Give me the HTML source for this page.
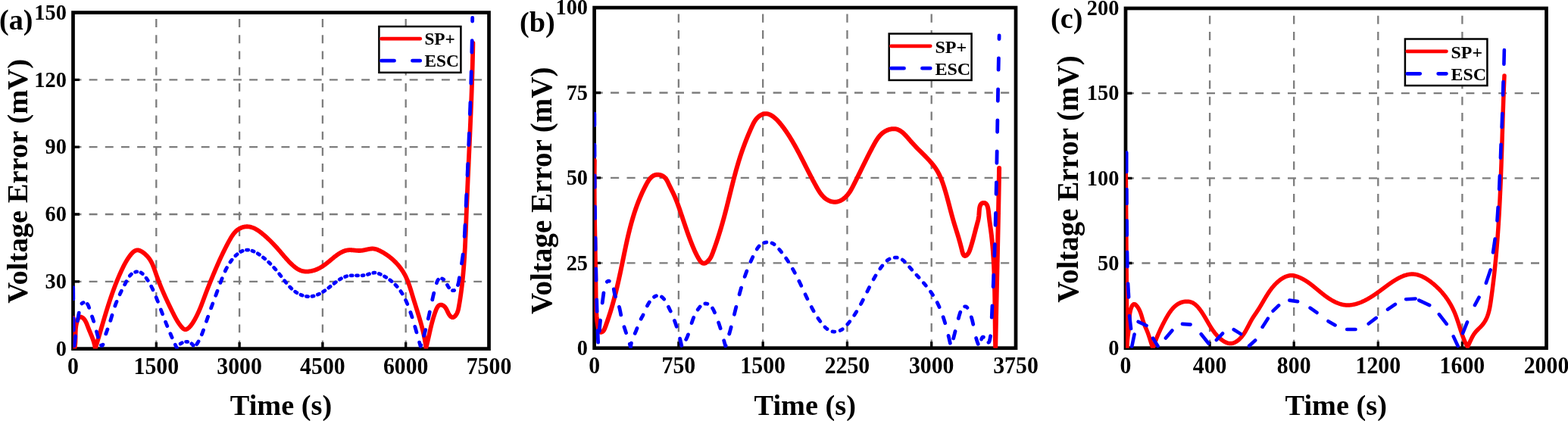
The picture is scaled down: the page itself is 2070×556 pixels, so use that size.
<!DOCTYPE html>
<html><head><meta charset="utf-8"><title>Voltage Error</title>
<style>html,body{margin:0;padding:0;background:#fff;overflow:hidden}svg{display:block}</style></head>
<body><svg width="2070" height="556" viewBox="0 0 2070 556" font-family="'Liberation Serif', 'Times New Roman', serif" font-weight="bold" fill="#000">
<rect width="2070" height="556" fill="#fff"/>
<path d="M206.3 460.6V16.6M316.1 460.6V16.6M425.9 460.6V16.6M535.7 460.6V16.6" stroke="#7d7d7d" stroke-width="2.3" stroke-dasharray="10.9 10.335" fill="none"/>
<path d="M96.5 371.8H645.5M96.5 283H645.5M96.5 194.2H645.5M96.5 105.4H645.5" stroke="#7d7d7d" stroke-width="2.3" stroke-dasharray="10.9 10.25" fill="none"/>
<path d="M206.3 460.6V452.1M316.1 460.6V452.1M425.9 460.6V452.1M535.7 460.6V452.1M96.5 371.8H105M96.5 283H105M96.5 194.2H105M96.5 105.4H105" stroke="#000" stroke-width="3.3" fill="none"/>
<rect x="96.5" y="16.6" width="549" height="444" fill="none" stroke="#000" stroke-width="4.7"/>
<clipPath id="clipa"><rect x="96.5" y="16.6" width="549" height="444"/></clipPath>
<g clip-path="url(#clipa)">
<path d="M96.6 420 L96.67 421.67 L96.73 423.33 L96.8 425 L96.86 426.67 L96.92 428.33 L96.99 430 L97.05 431.67 L97.12 433.33 L97.19 435 L97.26 436.67 L97.33 438.33 L97.4 440 L97.48 441.67 L97.56 443.33 L97.64 445 L97.72 446.67 L97.8 448.33 L97.89 450 L97.97 451.67 L98.06 453.33 L98.15 455 L98.23 456.67 L98.32 458.33 L98.4 460 L98.54 459.32 L98.66 458.64 L98.78 457.96 L98.88 457.27 L98.98 456.58 L99.06 455.89 L99.14 455.19 L99.2 454.5 L99.26 453.8 L99.32 453.1 L99.36 452.4 L99.4 451.69 L99.44 450.99 L99.47 450.28 L99.49 449.57 L99.51 448.86 L99.53 448.15 L99.55 447.44 L99.56 446.73 L99.57 446.01 L99.58 445.3 L99.59 444.58 L99.59 443.87 L99.6 443.15 L99.61 442.43 L99.62 441.71 L99.64 441 L99.65 440.28 L99.67 439.56 L99.69 438.85 L99.72 438.13 L99.75 437.41 L99.78 436.7 L99.83 435.98 L99.87 435.26 L99.93 434.55 L99.99 433.84 L100.06 433.12 L100.14 432.41 L100.23 431.7 L100.32 430.99 L100.43 430.29 L100.55 429.58 L100.68 428.88 L100.82 428.17 L100.97 427.47 L101.13 426.77 L101.31 426.08 L101.5 425.38 L101.71 424.69 L101.93 424 L102.17 423.31 L102.42 422.63 L102.69 421.95 L102.98 421.29 L103.3 420.67 L103.64 420.1 L104.02 419.59 L104.43 419.16 L104.88 418.83 L105.37 418.61 L105.91 418.51 L106.49 418.54 L107.1 418.68 L107.7 418.9 L108.29 419.17 L108.84 419.5 L109.37 419.86 L109.87 420.27 L110.35 420.72 L110.8 421.21 L111.24 421.72 L111.65 422.27 L112.05 422.85 L112.43 423.46 L112.79 424.08 L113.13 424.73 L113.47 425.4 L113.79 426.08 L114.1 426.77 L114.4 427.48 L114.69 428.19 L114.98 428.91 L115.26 429.63 L115.53 430.35 L115.81 431.07 L116.08 431.78 L116.35 432.49 L116.62 433.19 L116.9 433.87 L117.17 434.55 L117.44 435.22 L117.72 435.89 L117.99 436.55 L118.26 437.2 L118.53 437.85 L118.8 438.49 L119.07 439.13 L119.33 439.77 L119.6 440.4 L119.86 441.03 L120.12 441.65 L120.38 442.28 L120.64 442.9 L120.89 443.52 L121.14 444.14 L121.39 444.76 L121.64 445.39 L121.88 446.01 L122.11 446.64 L122.35 447.26 L122.58 447.9 L122.8 448.53 L123.02 449.17 L123.24 449.81 L123.45 450.46 L123.66 451.11 L123.86 451.77 L124.06 452.43 L124.25 453.1 L124.43 453.78 L124.61 454.47 L124.78 455.16 L124.95 455.86 L125.11 456.58 L125.26 457.3 L125.41 458.03 L125.55 458.78 L125.68 459.53 L125.8 460.3 L126 459.63 L126.21 458.96 L126.41 458.3 L126.62 457.63 L126.82 456.96 L127.02 456.29 L127.22 455.62 L127.43 454.95 L127.63 454.28 L127.83 453.61 L128.03 452.94 L128.23 452.27 L128.43 451.6 L128.63 450.93 L128.83 450.26 L129.03 449.59 L129.23 448.92 L129.43 448.25 L129.62 447.58 L129.82 446.91 L130.02 446.23 L130.22 445.56 L130.42 444.89 L130.62 444.22 L130.81 443.54 L131.01 442.87 L131.21 442.2 L131.41 441.53 L131.6 440.85 L131.8 440.18 L132 439.51 L132.19 438.83 L132.39 438.16 L132.59 437.49 L132.78 436.81 L132.98 436.14 L133.18 435.47 L133.38 434.79 L133.57 434.12 L133.77 433.44 L133.97 432.77 L134.16 432.1 L134.36 431.42 L134.56 430.75 L134.76 430.07 L134.96 429.4 L135.15 428.73 L135.35 428.05 L135.55 427.38 L135.75 426.7 L135.95 426.03 L136.15 425.36 L136.34 424.68 L136.54 424.01 L136.74 423.34 L136.94 422.66 L137.14 421.99 L137.34 421.31 L137.55 420.64 L137.75 419.97 L137.95 419.29 L138.15 418.62 L138.35 417.95 L138.56 417.28 L138.76 416.6 L138.96 415.93 L139.17 415.26 L139.37 414.59 L139.57 413.91 L139.78 413.24 L139.99 412.57 L140.19 411.9 L140.4 411.23 L140.61 410.56 L140.81 409.88 L141.02 409.21 L141.23 408.54 L141.44 407.87 L141.65 407.2 L141.86 406.53 L142.07 405.86 L142.28 405.19 L142.49 404.52 L142.71 403.85 L142.92 403.19 L143.14 402.52 L143.35 401.85 L143.57 401.18 L143.78 400.51 L144 399.85 L144.22 399.18 L144.44 398.51 L144.66 397.85 L144.88 397.18 L145.1 396.51 L145.32 395.85 L145.54 395.18 L145.77 394.52 L145.99 393.85 L146.21 393.19 L146.44 392.53 L146.67 391.86 L146.9 391.2 L147.12 390.54 L147.35 389.88 L147.58 389.21 L147.82 388.55 L148.05 387.89 L148.28 387.23 L148.52 386.57 L148.75 385.91 L148.99 385.25 L149.23 384.59 L149.46 383.94 L149.7 383.28 L149.94 382.62 L150.19 381.96 L150.43 381.31 L150.67 380.65 L150.92 380 L151.16 379.34 L151.41 378.69 L151.66 378.03 L151.91 377.38 L152.16 376.73 L152.41 376.07 L152.67 375.42 L152.92 374.77 L153.18 374.12 L153.43 373.47 L153.69 372.82 L153.95 372.17 L154.21 371.52 L154.48 370.88 L154.74 370.23 L155 369.58 L155.27 368.94 L155.54 368.29 L155.81 367.65 L156.08 367 L156.35 366.36 L156.62 365.72 L156.9 365.08 L157.17 364.43 L157.45 363.79 L157.73 363.15 L158.01 362.51 L158.29 361.88 L158.58 361.24 L158.86 360.6 L159.15 359.96 L159.44 359.33 L159.73 358.69 L160.02 358.06 L160.31 357.42 L160.6 356.79 L160.9 356.16 L161.2 355.53 L161.5 354.9 L161.8 354.27 L162.1 353.64 L162.41 353.01 L162.72 352.38 L163.03 351.76 L163.35 351.13 L163.67 350.51 L163.99 349.89 L164.31 349.27 L164.64 348.65 L164.98 348.03 L165.32 347.41 L165.66 346.8 L166.01 346.18 L166.36 345.57 L166.72 344.96 L167.08 344.35 L167.45 343.75 L167.82 343.14 L168.2 342.54 L168.59 341.94 L168.98 341.34 L169.38 340.74 L169.79 340.15 L170.2 339.56 L170.62 338.97 L171.05 338.38 L171.48 337.79 L171.92 337.21 L172.37 336.63 L172.83 336.06 L173.3 335.49 L173.77 334.94 L174.26 334.41 L174.75 333.89 L175.25 333.4 L175.76 332.93 L176.28 332.5 L176.81 332.09 L177.35 331.72 L177.9 331.39 L178.46 331.09 L179.02 330.85 L179.6 330.65 L180.19 330.5 L180.79 330.4 L181.4 330.36 L182.02 330.38 L182.65 330.46 L183.29 330.59 L183.94 330.77 L184.59 331 L185.24 331.28 L185.89 331.59 L186.54 331.94 L187.19 332.32 L187.83 332.72 L188.47 333.15 L189.1 333.61 L189.72 334.08 L190.33 334.56 L190.92 335.06 L191.5 335.56 L192.06 336.06 L192.61 336.56 L193.13 337.07 L193.64 337.57 L194.14 338.08 L194.62 338.6 L195.08 339.11 L195.53 339.64 L195.97 340.17 L196.39 340.71 L196.81 341.25 L197.21 341.81 L197.59 342.37 L197.97 342.94 L198.34 343.52 L198.7 344.1 L199.04 344.69 L199.38 345.29 L199.71 345.9 L200.03 346.51 L200.34 347.12 L200.64 347.74 L200.94 348.37 L201.23 349 L201.51 349.63 L201.79 350.27 L202.06 350.92 L202.32 351.57 L202.58 352.22 L202.84 352.87 L203.09 353.53 L203.33 354.19 L203.58 354.85 L203.82 355.51 L204.06 356.18 L204.29 356.85 L204.52 357.52 L204.76 358.19 L204.99 358.86 L205.22 359.53 L205.45 360.2 L205.68 360.87 L205.91 361.54 L206.14 362.21 L206.38 362.88 L206.61 363.54 L206.85 364.21 L207.08 364.88 L207.32 365.54 L207.56 366.2 L207.81 366.87 L208.05 367.53 L208.29 368.19 L208.54 368.85 L208.79 369.51 L209.04 370.16 L209.28 370.82 L209.54 371.48 L209.79 372.13 L210.04 372.79 L210.3 373.44 L210.55 374.09 L210.81 374.74 L211.07 375.4 L211.33 376.05 L211.59 376.69 L211.86 377.34 L212.12 377.99 L212.38 378.64 L212.65 379.28 L212.92 379.93 L213.19 380.58 L213.46 381.22 L213.73 381.86 L214 382.51 L214.27 383.15 L214.55 383.79 L214.82 384.43 L215.1 385.07 L215.38 385.71 L215.65 386.35 L215.93 386.99 L216.21 387.63 L216.5 388.27 L216.78 388.91 L217.06 389.54 L217.35 390.18 L217.63 390.82 L217.92 391.45 L218.21 392.09 L218.5 392.72 L218.78 393.36 L219.07 393.99 L219.37 394.63 L219.66 395.26 L219.95 395.89 L220.25 396.53 L220.54 397.16 L220.84 397.79 L221.13 398.42 L221.43 399.06 L221.73 399.69 L222.03 400.32 L222.33 400.95 L222.63 401.58 L222.93 402.21 L223.23 402.84 L223.53 403.47 L223.84 404.1 L224.14 404.73 L224.45 405.36 L224.75 405.99 L225.06 406.62 L225.37 407.25 L225.67 407.88 L225.98 408.51 L226.29 409.14 L226.6 409.77 L226.91 410.4 L227.22 411.03 L227.53 411.66 L227.85 412.29 L228.16 412.92 L228.47 413.55 L228.79 414.18 L229.1 414.81 L229.42 415.44 L229.74 416.07 L230.06 416.7 L230.39 417.33 L230.71 417.95 L231.04 418.58 L231.38 419.2 L231.71 419.82 L232.05 420.44 L232.4 421.06 L232.75 421.68 L233.1 422.29 L233.46 422.91 L233.83 423.52 L234.2 424.13 L234.58 424.73 L234.96 425.33 L235.35 425.93 L235.74 426.53 L236.15 427.12 L236.56 427.71 L236.97 428.3 L237.4 428.88 L237.83 429.46 L238.27 430.04 L238.73 430.61 L239.19 431.18 L239.65 431.74 L240.13 432.29 L240.62 432.81 L241.11 433.31 L241.62 433.76 L242.13 434.17 L242.65 434.51 L243.18 434.8 L243.71 435 L244.25 435.13 L244.8 435.16 L245.35 435.1 L245.91 434.96 L246.47 434.75 L247.02 434.47 L247.58 434.14 L248.13 433.75 L248.67 433.32 L249.2 432.86 L249.72 432.38 L250.23 431.87 L250.72 431.35 L251.2 430.81 L251.67 430.26 L252.13 429.7 L252.58 429.12 L253.02 428.54 L253.44 427.94 L253.86 427.33 L254.27 426.72 L254.67 426.1 L255.06 425.48 L255.45 424.85 L255.82 424.22 L256.2 423.59 L256.56 422.95 L256.92 422.32 L257.28 421.69 L257.63 421.05 L257.97 420.42 L258.31 419.78 L258.65 419.15 L258.98 418.51 L259.3 417.88 L259.63 417.24 L259.94 416.61 L260.25 415.97 L260.56 415.34 L260.87 414.7 L261.17 414.06 L261.46 413.42 L261.76 412.79 L262.05 412.15 L262.33 411.51 L262.61 410.87 L262.89 410.23 L263.17 409.6 L263.44 408.96 L263.71 408.32 L263.98 407.68 L264.25 407.04 L264.51 406.4 L264.77 405.75 L265.03 405.11 L265.28 404.47 L265.54 403.83 L265.79 403.19 L266.04 402.54 L266.29 401.9 L266.54 401.26 L266.78 400.61 L267.03 399.97 L267.27 399.32 L267.52 398.68 L267.76 398.03 L268 397.39 L268.24 396.74 L268.48 396.09 L268.72 395.44 L268.96 394.8 L269.2 394.15 L269.44 393.5 L269.68 392.85 L269.92 392.2 L270.16 391.55 L270.4 390.9 L270.64 390.25 L270.89 389.59 L271.13 388.94 L271.37 388.29 L271.62 387.64 L271.87 386.98 L272.11 386.33 L272.36 385.67 L272.61 385.02 L272.87 384.36 L273.12 383.71 L273.37 383.05 L273.63 382.39 L273.88 381.74 L274.14 381.08 L274.4 380.42 L274.66 379.77 L274.92 379.11 L275.18 378.45 L275.44 377.79 L275.7 377.14 L275.96 376.48 L276.23 375.82 L276.49 375.16 L276.76 374.51 L277.02 373.85 L277.29 373.19 L277.55 372.54 L277.82 371.88 L278.09 371.22 L278.36 370.57 L278.63 369.91 L278.9 369.26 L279.17 368.6 L279.44 367.95 L279.71 367.29 L279.98 366.64 L280.25 365.99 L280.52 365.34 L280.79 364.68 L281.06 364.03 L281.34 363.38 L281.61 362.73 L281.88 362.09 L282.15 361.44 L282.42 360.79 L282.7 360.14 L282.97 359.5 L283.24 358.85 L283.51 358.21 L283.79 357.57 L284.06 356.92 L284.34 356.28 L284.61 355.64 L284.88 355 L285.16 354.36 L285.43 353.72 L285.71 353.08 L285.99 352.44 L286.26 351.81 L286.54 351.17 L286.82 350.53 L287.1 349.89 L287.37 349.26 L287.65 348.62 L287.93 347.99 L288.22 347.35 L288.5 346.72 L288.78 346.09 L289.06 345.45 L289.35 344.82 L289.63 344.19 L289.92 343.56 L290.2 342.93 L290.49 342.29 L290.78 341.66 L291.07 341.03 L291.36 340.4 L291.65 339.77 L291.94 339.14 L292.24 338.51 L292.53 337.89 L292.83 337.26 L293.13 336.63 L293.43 336 L293.72 335.37 L294.03 334.74 L294.33 334.11 L294.63 333.49 L294.94 332.86 L295.24 332.23 L295.55 331.6 L295.86 330.98 L296.17 330.35 L296.48 329.72 L296.8 329.09 L297.11 328.47 L297.43 327.84 L297.75 327.21 L298.07 326.59 L298.39 325.96 L298.71 325.33 L299.04 324.7 L299.36 324.08 L299.69 323.45 L300.02 322.82 L300.35 322.19 L300.69 321.57 L301.02 320.94 L301.36 320.31 L301.7 319.68 L302.04 319.05 L302.39 318.42 L302.73 317.8 L303.08 317.17 L303.43 316.54 L303.79 315.92 L304.14 315.29 L304.51 314.67 L304.87 314.06 L305.24 313.44 L305.62 312.83 L306 312.23 L306.39 311.64 L306.79 311.05 L307.19 310.46 L307.6 309.89 L308.02 309.32 L308.45 308.77 L308.88 308.22 L309.32 307.68 L309.78 307.16 L310.24 306.64 L310.71 306.14 L311.2 305.65 L311.69 305.17 L312.2 304.71 L312.72 304.27 L313.25 303.83 L313.79 303.42 L314.35 303.02 L314.92 302.63 L315.51 302.27 L316.11 301.92 L316.72 301.6 L317.35 301.29 L317.99 301 L318.64 300.73 L319.3 300.48 L319.96 300.26 L320.64 300.05 L321.32 299.87 L322.01 299.71 L322.7 299.58 L323.39 299.46 L324.09 299.37 L324.78 299.31 L325.47 299.27 L326.16 299.26 L326.84 299.27 L327.52 299.3 L328.2 299.36 L328.87 299.45 L329.54 299.55 L330.21 299.68 L330.87 299.83 L331.53 300 L332.18 300.19 L332.83 300.4 L333.48 300.63 L334.12 300.87 L334.76 301.13 L335.39 301.41 L336.02 301.71 L336.65 302.02 L337.27 302.34 L337.89 302.68 L338.51 303.03 L339.12 303.4 L339.73 303.77 L340.33 304.16 L340.93 304.56 L341.53 304.96 L342.12 305.38 L342.71 305.8 L343.3 306.24 L343.88 306.67 L344.46 307.12 L345.03 307.57 L345.6 308.03 L346.17 308.48 L346.73 308.95 L347.29 309.41 L347.84 309.88 L348.39 310.35 L348.94 310.82 L349.49 311.29 L350.03 311.76 L350.56 312.24 L351.1 312.71 L351.63 313.18 L352.15 313.66 L352.68 314.14 L353.2 314.61 L353.71 315.09 L354.23 315.57 L354.74 316.05 L355.24 316.53 L355.75 317.02 L356.25 317.5 L356.75 317.99 L357.25 318.48 L357.74 318.96 L358.23 319.45 L358.72 319.94 L359.21 320.44 L359.69 320.93 L360.17 321.43 L360.65 321.92 L361.13 322.42 L361.6 322.92 L362.07 323.42 L362.54 323.92 L363.01 324.43 L363.48 324.94 L363.94 325.44 L364.4 325.95 L364.87 326.46 L365.33 326.98 L365.78 327.49 L366.24 328.01 L366.69 328.53 L367.15 329.05 L367.6 329.57 L368.05 330.09 L368.5 330.62 L368.95 331.15 L369.4 331.67 L369.85 332.2 L370.3 332.73 L370.74 333.26 L371.19 333.79 L371.64 334.32 L372.09 334.85 L372.54 335.39 L372.99 335.92 L373.44 336.45 L373.89 336.98 L374.35 337.52 L374.8 338.05 L375.26 338.58 L375.71 339.11 L376.17 339.64 L376.64 340.17 L377.1 340.7 L377.57 341.23 L378.03 341.75 L378.5 342.28 L378.98 342.8 L379.46 343.32 L379.93 343.84 L380.42 344.36 L380.9 344.88 L381.39 345.39 L381.89 345.91 L382.39 346.42 L382.89 346.92 L383.39 347.43 L383.9 347.93 L384.42 348.43 L384.94 348.93 L385.46 349.42 L385.99 349.91 L386.52 350.4 L387.06 350.87 L387.61 351.34 L388.16 351.81 L388.71 352.26 L389.27 352.71 L389.84 353.15 L390.41 353.57 L390.99 353.98 L391.57 354.38 L392.16 354.77 L392.75 355.14 L393.36 355.5 L393.96 355.84 L394.58 356.17 L395.2 356.48 L395.82 356.76 L396.46 357.03 L397.1 357.28 L397.75 357.51 L398.4 357.72 L399.06 357.91 L399.73 358.07 L400.4 358.21 L401.08 358.33 L401.77 358.42 L402.46 358.5 L403.15 358.56 L403.85 358.59 L404.55 358.61 L405.25 358.61 L405.95 358.59 L406.65 358.55 L407.36 358.5 L408.06 358.43 L408.76 358.34 L409.46 358.24 L410.16 358.12 L410.86 357.99 L411.55 357.85 L412.24 357.69 L412.93 357.52 L413.61 357.33 L414.28 357.14 L414.95 356.93 L415.61 356.71 L416.26 356.48 L416.91 356.24 L417.55 355.99 L418.19 355.73 L418.82 355.46 L419.44 355.18 L420.06 354.89 L420.67 354.59 L421.28 354.28 L421.88 353.97 L422.48 353.64 L423.08 353.31 L423.67 352.97 L424.26 352.62 L424.84 352.26 L425.42 351.89 L426 351.52 L426.58 351.14 L427.15 350.75 L427.72 350.36 L428.29 349.96 L428.86 349.55 L429.42 349.14 L429.98 348.72 L430.55 348.29 L431.11 347.86 L431.67 347.42 L432.23 346.98 L432.79 346.53 L433.36 346.08 L433.92 345.62 L434.48 345.16 L435.04 344.7 L435.6 344.23 L436.17 343.77 L436.73 343.3 L437.3 342.82 L437.86 342.35 L438.43 341.88 L439 341.41 L439.57 340.95 L440.14 340.48 L440.71 340.02 L441.28 339.56 L441.86 339.1 L442.44 338.65 L443.02 338.21 L443.6 337.77 L444.18 337.33 L444.76 336.9 L445.35 336.49 L445.94 336.07 L446.53 335.67 L447.12 335.28 L447.72 334.9 L448.32 334.52 L448.92 334.16 L449.52 333.81 L450.13 333.48 L450.74 333.15 L451.35 332.84 L451.97 332.54 L452.59 332.26 L453.21 331.99 L453.84 331.74 L454.47 331.51 L455.1 331.29 L455.74 331.09 L456.38 330.91 L457.03 330.75 L457.68 330.61 L458.33 330.49 L458.99 330.39 L459.65 330.3 L460.31 330.25 L460.98 330.21 L461.66 330.19 L462.34 330.19 L463.02 330.2 L463.7 330.23 L464.39 330.27 L465.08 330.32 L465.78 330.38 L466.48 330.44 L467.18 330.51 L467.88 330.58 L468.58 330.65 L469.29 330.72 L469.99 330.79 L470.7 330.85 L471.41 330.91 L472.12 330.95 L472.84 330.99 L473.55 331.01 L474.26 331.02 L474.97 331.01 L475.68 330.99 L476.4 330.94 L477.11 330.88 L477.82 330.79 L478.53 330.69 L479.24 330.58 L479.95 330.45 L480.65 330.31 L481.36 330.17 L482.07 330.02 L482.77 329.86 L483.47 329.71 L484.17 329.55 L484.87 329.4 L485.56 329.25 L486.25 329.11 L486.95 328.97 L487.63 328.85 L488.32 328.74 L489 328.65 L489.68 328.57 L490.36 328.51 L491.03 328.47 L491.7 328.46 L492.37 328.47 L493.03 328.51 L493.69 328.58 L494.35 328.68 L495 328.81 L495.65 328.96 L496.29 329.14 L496.93 329.34 L497.57 329.55 L498.21 329.79 L498.85 330.05 L499.48 330.31 L500.11 330.59 L500.74 330.89 L501.36 331.19 L501.99 331.49 L502.61 331.81 L503.23 332.13 L503.85 332.46 L504.47 332.8 L505.09 333.14 L505.7 333.49 L506.31 333.85 L506.92 334.21 L507.52 334.59 L508.12 334.96 L508.72 335.35 L509.32 335.74 L509.91 336.13 L510.5 336.53 L511.09 336.94 L511.67 337.35 L512.25 337.77 L512.83 338.19 L513.4 338.62 L513.97 339.06 L514.53 339.5 L515.09 339.94 L515.65 340.39 L516.2 340.84 L516.75 341.3 L517.29 341.76 L517.83 342.23 L518.36 342.7 L518.89 343.18 L519.41 343.66 L519.93 344.14 L520.45 344.62 L520.95 345.11 L521.46 345.61 L521.95 346.1 L522.44 346.61 L522.93 347.11 L523.41 347.62 L523.89 348.13 L524.36 348.65 L524.82 349.17 L525.28 349.69 L525.74 350.21 L526.19 350.74 L526.63 351.28 L527.07 351.82 L527.5 352.36 L527.93 352.9 L528.35 353.45 L528.76 354 L529.18 354.56 L529.58 355.12 L529.98 355.68 L530.37 356.24 L530.76 356.81 L531.14 357.39 L531.52 357.96 L531.89 358.55 L532.26 359.13 L532.62 359.72 L532.97 360.31 L533.32 360.9 L533.67 361.5 L534 362.1 L534.33 362.71 L534.66 363.32 L534.98 363.93 L535.29 364.55 L535.6 365.17 L535.9 365.79 L536.2 366.42 L536.49 367.05 L536.78 367.68 L537.06 368.31 L537.34 368.95 L537.61 369.6 L537.88 370.24 L538.14 370.89 L538.4 371.54 L538.65 372.19 L538.9 372.84 L539.15 373.5 L539.39 374.16 L539.63 374.82 L539.86 375.48 L540.1 376.15 L540.32 376.82 L540.55 377.48 L540.78 378.15 L541 378.83 L541.22 379.5 L541.43 380.17 L541.65 380.85 L541.86 381.52 L542.07 382.2 L542.28 382.88 L542.49 383.55 L542.7 384.23 L542.9 384.91 L543.11 385.59 L543.31 386.27 L543.52 386.95 L543.72 387.63 L543.92 388.31 L544.12 388.99 L544.33 389.67 L544.53 390.35 L544.73 391.03 L544.94 391.71 L545.14 392.39 L545.35 393.06 L545.56 393.74 L545.76 394.41 L545.97 395.09 L546.18 395.76 L546.38 396.44 L546.59 397.11 L546.8 397.79 L547.01 398.46 L547.22 399.13 L547.43 399.8 L547.64 400.48 L547.85 401.15 L548.06 401.82 L548.27 402.49 L548.48 403.16 L548.69 403.83 L548.9 404.5 L549.11 405.17 L549.32 405.84 L549.53 406.51 L549.74 407.17 L549.95 407.84 L550.16 408.51 L550.37 409.18 L550.58 409.85 L550.79 410.52 L550.99 411.18 L551.2 411.85 L551.41 412.52 L551.61 413.19 L551.82 413.85 L552.03 414.52 L552.23 415.19 L552.43 415.86 L552.64 416.52 L552.84 417.19 L553.04 417.86 L553.24 418.53 L553.44 419.2 L553.64 419.86 L553.84 420.53 L554.04 421.2 L554.23 421.87 L554.43 422.54 L554.62 423.21 L554.82 423.88 L555.01 424.55 L555.2 425.22 L555.39 425.89 L555.58 426.56 L555.77 427.23 L555.95 427.9 L556.14 428.57 L556.32 429.24 L556.5 429.92 L556.68 430.59 L556.86 431.26 L557.04 431.94 L557.21 432.61 L557.38 433.29 L557.56 433.96 L557.73 434.64 L557.9 435.31 L558.06 435.99 L558.23 436.67 L558.39 437.35 L558.55 438.03 L558.71 438.71 L558.87 439.39 L559.02 440.07 L559.18 440.75 L559.33 441.43 L559.48 442.12 L559.62 442.8 L559.77 443.49 L559.91 444.17 L560.05 444.86 L560.19 445.55 L560.32 446.23 L560.46 446.92 L560.59 447.61 L560.72 448.3 L560.84 449 L560.96 449.69 L561.08 450.38 L561.2 451.08 L561.32 451.77 L561.43 452.47 L561.54 453.17 L561.65 453.87 L561.75 454.57 L561.85 455.27 L561.95 455.97 L562.05 456.67 L562.14 457.38 L562.23 458.08 L562.32 458.79 L562.4 459.5 L562.59 458.78 L562.78 458.06 L562.96 457.34 L563.14 456.63 L563.32 455.92 L563.5 455.21 L563.67 454.51 L563.84 453.81 L564.01 453.11 L564.17 452.42 L564.34 451.72 L564.5 451.04 L564.66 450.35 L564.82 449.67 L564.97 448.99 L565.13 448.31 L565.28 447.63 L565.43 446.96 L565.59 446.28 L565.74 445.61 L565.89 444.94 L566.03 444.28 L566.18 443.61 L566.33 442.94 L566.48 442.28 L566.63 441.62 L566.77 440.95 L566.92 440.29 L567.07 439.63 L567.21 438.97 L567.36 438.31 L567.51 437.65 L567.66 436.99 L567.81 436.33 L567.96 435.68 L568.11 435.02 L568.27 434.36 L568.42 433.7 L568.57 433.04 L568.73 432.38 L568.89 431.71 L569.05 431.05 L569.21 430.39 L569.38 429.72 L569.54 429.06 L569.71 428.39 L569.88 427.72 L570.06 427.05 L570.23 426.38 L570.41 425.7 L570.59 425.03 L570.78 424.35 L570.97 423.67 L571.16 422.99 L571.35 422.31 L571.55 421.62 L571.75 420.93 L571.96 420.24 L572.17 419.54 L572.38 418.84 L572.6 418.14 L572.82 417.44 L573.04 416.73 L573.28 416.02 L573.51 415.3 L573.75 414.58 L573.99 413.86 L574.24 413.13 L574.5 412.4 L574.76 411.67 L575.03 410.94 L575.3 410.2 L575.58 409.48 L575.87 408.77 L576.18 408.08 L576.49 407.41 L576.82 406.76 L577.17 406.15 L577.52 405.57 L577.9 405.03 L578.29 404.53 L578.71 404.08 L579.14 403.68 L579.6 403.33 L580.07 403.05 L580.57 402.83 L581.1 402.68 L581.65 402.6 L582.23 402.6 L582.84 402.68 L583.45 402.83 L584.08 403.05 L584.7 403.33 L585.3 403.68 L585.89 404.07 L586.44 404.52 L586.96 405 L587.44 405.53 L587.9 406.1 L588.32 406.7 L588.72 407.33 L589.11 407.98 L589.47 408.65 L589.82 409.33 L590.17 410.03 L590.5 410.73 L590.83 411.44 L591.17 412.14 L591.5 412.84 L591.84 413.53 L592.2 414.21 L592.57 414.87 L592.95 415.5 L593.36 416.11 L593.79 416.69 L594.25 417.23 L594.73 417.73 L595.23 418.16 L595.75 418.54 L596.27 418.83 L596.81 419.04 L597.35 419.15 L597.9 419.16 L598.44 419.05 L598.98 418.84 L599.51 418.53 L600.03 418.14 L600.54 417.68 L601.02 417.16 L601.49 416.6 L601.93 416 L602.34 415.38 L602.72 414.74 L603.07 414.1 L603.39 413.45 L603.69 412.8 L603.96 412.13 L604.2 411.47 L604.43 410.79 L604.64 410.12 L604.82 409.44 L605 408.75 L605.16 408.06 L605.31 407.37 L605.45 406.68 L605.58 405.99 L605.71 405.29 L605.83 404.6 L605.95 403.9 L606.08 403.21 L606.2 402.51 L606.31 401.82 L606.43 401.12 L606.55 400.42 L606.67 399.73 L606.78 399.03 L606.89 398.34 L607.01 397.64 L607.12 396.94 L607.23 396.25 L607.34 395.55 L607.44 394.85 L607.55 394.16 L607.66 393.46 L607.76 392.76 L607.86 392.07 L607.97 391.37 L608.07 390.67 L608.17 389.98 L608.27 389.28 L608.37 388.58 L608.46 387.89 L608.56 387.19 L608.65 386.49 L608.75 385.79 L608.84 385.1 L608.93 384.4 L609.03 383.7 L609.12 383.01 L609.2 382.31 L609.29 381.61 L609.38 380.91 L609.47 380.21 L609.55 379.52 L609.64 378.82 L609.72 378.12 L609.8 377.42 L609.89 376.73 L609.97 376.03 L610.05 375.33 L610.13 374.63 L610.21 373.93 L610.28 373.24 L610.36 372.54 L610.44 371.84 L610.51 371.14 L610.58 370.44 L610.66 369.74 L610.73 369.04 L610.8 368.35 L610.87 367.65 L610.94 366.95 L611.01 366.25 L611.08 365.55 L611.15 364.85 L611.22 364.15 L611.28 363.46 L611.35 362.76 L611.41 362.06 L611.48 361.36 L611.54 360.66 L611.6 359.96 L611.66 359.26 L611.73 358.56 L611.79 357.86 L611.85 357.16 L611.91 356.46 L611.96 355.76 L612.02 355.07 L612.08 354.37 L612.13 353.67 L612.19 352.97 L612.25 352.27 L612.3 351.57 L612.35 350.87 L612.41 350.17 L612.46 349.47 L612.51 348.77 L612.56 348.07 L612.61 347.37 L612.66 346.67 L612.71 345.97 L612.76 345.27 L612.81 344.57 L612.86 343.87 L612.91 343.17 L612.95 342.47 L613 341.77 L613.05 341.07 L613.09 340.37 L613.14 339.67 L613.18 338.97 L613.22 338.27 L613.27 337.57 L613.31 336.87 L613.35 336.17 L613.39 335.47 L613.43 334.77 L613.48 334.07 L613.52 333.37 L613.56 332.67 L613.6 331.97 L613.63 331.26 L613.67 330.56 L613.71 329.86 L613.75 329.16 L613.79 328.46 L613.82 327.76 L613.86 327.06 L613.9 326.36 L613.93 325.66 L613.97 324.96 L614 324.26 L614.04 323.56 L614.07 322.86 L614.11 322.16 L614.14 321.45 L614.18 320.75 L614.21 320.05 L614.24 319.35 L614.27 318.65 L614.31 317.95 L614.34 317.25 L614.37 316.55 L614.4 315.85 L614.43 315.15 L614.47 314.44 L614.5 313.74 L614.53 313.04 L614.56 312.34 L614.59 311.64 L614.62 310.94 L614.65 310.24 L614.68 309.54 L614.71 308.84 L614.74 308.13 L614.76 307.43 L614.79 306.73 L614.82 306.03 L614.85 305.33 L614.88 304.63 L614.91 303.93 L614.94 303.23 L614.96 302.52 L614.99 301.82 L615.02 301.12 L615.05 300.42 L615.07 299.72 L615.1 299.02 L615.13 298.32 L615.16 297.62 L615.18 296.91 L615.21 296.21 L615.24 295.51 L615.27 294.81 L615.29 294.11 L615.32 293.41 L615.35 292.71 L615.37 292 L615.4 291.3 L615.43 290.6 L615.45 289.9 L615.48 289.2 L615.51 288.5 L615.54 287.8 L615.56 287.09 L615.59 286.39 L615.62 285.69 L615.64 284.99 L615.67 284.29 L615.7 283.59 L615.73 282.89 L615.75 282.18 L615.78 281.48 L615.81 280.78 L615.84 280.08 L615.87 279.38 L615.89 278.68 L615.92 277.98 L615.95 277.27 L615.98 276.57 L616.01 275.87 L616.03 275.17 L616.06 274.47 L616.09 273.77 L616.12 273.07 L616.15 272.36 L616.18 271.66 L616.21 270.96 L616.24 270.26 L616.26 269.56 L616.29 268.86 L616.32 268.16 L616.35 267.46 L616.38 266.75 L616.41 266.05 L616.44 265.35 L616.47 264.65 L616.5 263.95 L616.53 263.25 L616.56 262.55 L616.59 261.84 L616.62 261.14 L616.65 260.44 L616.68 259.74 L616.71 259.04 L616.74 258.34 L616.77 257.64 L616.8 256.93 L616.83 256.23 L616.86 255.53 L616.89 254.83 L616.92 254.13 L616.95 253.43 L616.98 252.73 L617.01 252.02 L617.04 251.32 L617.07 250.62 L617.1 249.92 L617.13 249.22 L617.16 248.52 L617.19 247.82 L617.22 247.11 L617.25 246.41 L617.28 245.71 L617.32 245.01 L617.35 244.31 L617.38 243.61 L617.41 242.91 L617.44 242.21 L617.47 241.5 L617.5 240.8 L617.53 240.1 L617.56 239.4 L617.6 238.7 L617.63 238 L617.66 237.3 L617.69 236.59 L617.72 235.89 L617.75 235.19 L617.78 234.49 L617.82 233.79 L617.85 233.09 L617.88 232.39 L617.91 231.68 L617.94 230.98 L617.97 230.28 L618 229.58 L618.04 228.88 L618.07 228.18 L618.1 227.48 L618.13 226.78 L618.16 226.07 L618.19 225.37 L618.23 224.67 L618.26 223.97 L618.29 223.27 L618.32 222.57 L618.35 221.87 L618.39 221.16 L618.42 220.46 L618.45 219.76 L618.48 219.06 L618.51 218.36 L618.54 217.66 L618.58 216.96 L618.61 216.25 L618.64 215.55 L618.67 214.85 L618.7 214.15 L618.74 213.45 L618.77 212.75 L618.8 212.05 L618.83 211.34 L618.86 210.64 L618.9 209.94 L618.93 209.24 L618.96 208.54 L618.99 207.84 L619.02 207.14 L619.06 206.44 L619.09 205.73 L619.12 205.03 L619.15 204.33 L619.18 203.63 L619.22 202.93 L619.25 202.23 L619.28 201.53 L619.31 200.82 L619.34 200.12 L619.37 199.42 L619.41 198.72 L619.44 198.02 L619.47 197.32 L619.5 196.62 L619.53 195.91 L619.56 195.21 L619.6 194.51 L619.63 193.81 L619.66 193.11 L619.69 192.41 L619.72 191.71 L619.75 191 L619.79 190.3 L619.82 189.6 L619.85 188.9 L619.88 188.2 L619.91 187.5 L619.94 186.8 L619.98 186.09 L620.01 185.39 L620.04 184.69 L620.07 183.99 L620.1 183.29 L620.13 182.59 L620.16 181.89 L620.19 181.18 L620.23 180.48 L620.26 179.78 L620.29 179.08 L620.32 178.38 L620.35 177.68 L620.38 176.98 L620.41 176.27 L620.44 175.57 L620.47 174.87 L620.5 174.17 L620.54 173.47 L620.57 172.77 L620.6 172.07 L620.63 171.36 L620.66 170.66 L620.69 169.96 L620.72 169.26 L620.75 168.56 L620.78 167.86 L620.81 167.16 L620.84 166.45 L620.87 165.75 L620.9 165.05 L620.93 164.35 L620.96 163.65 L620.99 162.95 L621.02 162.25 L621.05 161.54 L621.08 160.84 L621.11 160.14 L621.14 159.44 L621.17 158.74 L621.2 158.04 L621.23 157.34 L621.26 156.63 L621.29 155.93 L621.32 155.23 L621.35 154.53 L621.38 153.83 L621.41 153.13 L621.43 152.43 L621.46 151.72 L621.49 151.02 L621.52 150.32 L621.55 149.62 L621.58 148.92 L621.61 148.22 L621.64 147.52 L621.66 146.81 L621.69 146.11 L621.72 145.41 L621.75 144.71 L621.78 144.01 L621.81 143.31 L621.83 142.6 L621.86 141.9 L621.89 141.2 L621.92 140.5 L621.95 139.8 L621.97 139.1 L622 138.4 L622.03 137.69 L622.06 136.99 L622.08 136.29 L622.11 135.59 L622.14 134.89 L622.16 134.19 L622.19 133.48 L622.22 132.78 L622.25 132.08 L622.27 131.38 L622.3 130.68 L622.32 129.98 L622.35 129.28 L622.38 128.57 L622.4 127.87 L622.43 127.17 L622.46 126.47 L622.48 125.77 L622.51 125.07 L622.53 124.36 L622.56 123.66 L622.58 122.96 L622.61 122.26 L622.63 121.56 L622.66 120.86 L622.68 120.16 L622.71 119.45 L622.73 118.75 L622.76 118.05 L622.78 117.35 L622.81 116.65 L622.83 115.95 L622.86 115.24 L622.88 114.54 L622.91 113.84 L622.93 113.14 L622.95 112.44 L622.98 111.74 L623 111.03 L623.02 110.33 L623.05 109.63 L623.07 108.93 L623.09 108.23 L623.12 107.53 L623.14 106.82 L623.16 106.12 L623.19 105.42 L623.21 104.72 L623.23 104.02 L623.25 103.32 L623.27 102.61 L623.3 101.91 L623.32 101.21 L623.34 100.51 L623.36 99.81 L623.38 99.11 L623.4 98.4 L623.43 97.7 L623.45 97 L623.47 96.3 L623.49 95.6 L623.51 94.9 L623.53 94.19 L623.55 93.49 L623.57 92.79 L623.59 92.09 L623.61 91.39 L623.63 90.69 L623.65 89.98 L623.67 89.28 L623.69 88.58 L623.71 87.88 L623.73 87.18 L623.75 86.48 L623.77 85.77 L623.78 85.07 L623.8 84.37 L623.82 83.67 L623.84 82.97 L623.86 82.27 L623.87 81.56 L623.89 80.86 L623.91 80.16 L623.93 79.46 L623.95 78.76 L623.96 78.05 L623.98 77.35 L624 76.65 L624.01 75.95 L624.03 75.25 L624.05 74.55 L624.06 73.84 L624.08 73.14 L624.09 72.44 L624.11 71.74 L624.12 71.04 L624.14 70.34 L624.16 69.63 L624.17 68.93 L624.19 68.23 L624.2 67.53 L624.21 66.83 L624.23 66.12 L624.24 65.42 L624.26 64.72 L624.27 64.02 L624.28 63.32 L624.3 62.61 L624.31 61.91 L624.32 61.21 L624.34 60.51 L624.35 59.81 L624.36 59.11 L624.38 58.4 L624.39 57.7 L624.4 57" stroke="#ff0000" stroke-width="5.8" fill="none" stroke-linejoin="round" stroke-linecap="round"/>
<path d="M96.66 379.69 L96.67 380.15 L96.68 381.54 L96.68 382.92 L96.69 384.31 L96.7 385.69 L96.71 387.08 L96.72 388.46 L96.73 389.85 L96.74 391.24 L96.75 392.62 L96.76 394.01 L96.76 394.93 M97.01 420.49 L97.01 420.97 L97.04 422.43 L97.06 423.88 L97.08 425.32 L97.11 426.76 L97.14 428.17 L97.16 429.59 L97.19 431 L97.22 432.4 L97.25 433.79 L97.27 435.18 L97.29 436.1 M98.05 456.79 L98.09 456.43 L98.21 455.34 L98.33 454.25 L98.45 453.18 L98.58 452.11 L98.7 451.05 L98.82 450 L98.94 448.95 L99.06 447.9 L99.18 446.86 L99.31 445.83 L99.43 444.8 L99.56 443.77 M102.35 423.77 L102.41 423.42 L102.58 422.38 L102.75 421.34 L102.93 420.29 L103.09 419.35 L103.22 418.65 L103.34 417.94 L103.47 417.22 L103.59 416.51 L103.72 415.79 L103.86 415.07 L103.99 414.34 L104.13 413.61 L104.22 413.13 M108 400.9 L108.09 400.82 L108.34 400.59 L108.57 400.4 L108.8 400.23 L109.04 400.08 L109.29 399.95 L109.53 399.85 L109.76 399.76 L110 399.69 L110.16 399.65 M115.32 401.48 L115.4 401.58 L115.65 401.91 L115.88 402.25 L116.09 402.62 L116.3 402.99 L116.53 403.48 L116.76 404 L116.97 404.52 L117.16 405.07 L117.35 405.62 L117.52 406.19 L117.58 406.38 M121.51 418.04 L121.56 418.2 L121.74 418.68 L121.91 419.16 L122.09 419.64 L122.26 420.13 L122.43 420.62 L122.6 421.11 L122.77 421.61 L122.95 422.16 L123.17 422.83 L123.39 423.5 L123.6 424.17 L123.67 424.4 M127.44 437.85 L127.5 438.07 L127.68 438.75 L127.86 439.43 L128.04 440.1 L128.22 440.78 L128.41 441.46 L128.59 442.13 L128.78 442.81 L128.97 443.48 L129.16 444.16 L129.35 444.83 L129.48 445.28 M133.49 455.99 L133.57 456.1 L133.79 456.27 L134.01 456.41 L134.24 456.48 L134.48 456.48 L134.72 456.45 L134.96 456.32 L135.19 456.16 L135.42 455.95 L135.64 455.68 L135.84 455.39 L135.92 455.24 M139.77 440.9 L139.84 440.69 L140.05 440.05 L140.26 439.41 L140.45 438.87 L140.63 438.39 L140.8 437.9 L140.98 437.41 L141.17 436.92 L141.35 436.42 L141.54 435.93 L141.72 435.43 L141.91 434.93 M145.83 423.4 L145.9 423.18 L146.1 422.5 L146.31 421.83 L146.51 421.15 L146.71 420.48 L146.91 419.81 L147.11 419.13 L147.31 418.46 L147.51 417.78 L147.71 417.11 L147.9 416.44 L147.97 416.21 M151.83 404.09 L151.89 403.93 L152.07 403.43 L152.25 402.94 L152.43 402.45 L152.61 401.95 L152.8 401.46 L152.99 400.97 L153.17 400.48 L153.36 399.99 L153.55 399.5 L153.74 399.01 L153.94 398.52 L154 398.36 M158.18 388.7 L158.25 388.54 L158.48 388.07 L158.7 387.59 L158.93 387.11 L159.15 386.64 L159.38 386.16 L159.61 385.69 L159.84 385.21 L160.07 384.74 L160.3 384.26 M164.64 375.78 L164.71 375.65 L164.91 375.28 L165.11 374.91 L165.31 374.54 L165.51 374.16 L165.71 373.79 L165.91 373.42 L166.11 373.05 L166.31 372.68 L166.52 372.31 L166.72 371.94 L166.85 371.69 M171.38 364.24 L171.45 364.15 L171.68 363.88 L171.9 363.61 L172.14 363.35 L172.37 363.09 L172.62 362.84 L172.87 362.59 L173.09 362.39 L173.32 362.18 L173.47 362.04 M178.6 359.23 L178.69 359.21 L178.95 359.14 L179.21 359.07 L179.47 359.01 L179.73 358.96 L180 358.91 L180.25 358.87 L180.51 358.84 L180.77 358.82 M186.01 360.06 L186.1 360.1 L186.34 360.25 L186.59 360.4 L186.83 360.56 L187.07 360.73 L187.3 360.9 L187.54 361.08 L187.77 361.26 L188 361.44 L188.23 361.64 M193.07 367.23 L193.15 367.33 L193.36 367.64 L193.57 367.94 L193.78 368.25 L193.99 368.56 L194.22 368.9 L194.47 369.27 L194.71 369.64 L194.95 370 L195.19 370.37 L195.26 370.49 M199.73 378.22 L199.81 378.37 L200.05 378.83 L200.28 379.29 L200.52 379.75 L200.75 380.22 L200.97 380.68 L201.2 381.15 L201.43 381.61 L201.65 382.08 L201.87 382.55 L201.94 382.71 M206.2 392.66 L206.27 392.82 L206.46 393.31 L206.66 393.8 L206.85 394.29 L207.04 394.79 L207.23 395.28 L207.42 395.77 L207.61 396.26 L207.8 396.76 L207.99 397.25 L208.18 397.75 L208.37 398.24 M212.39 408.98 L212.45 409.15 L212.64 409.64 L212.82 410.14 L213.01 410.63 L213.2 411.13 L213.38 411.62 L213.57 412.11 L213.76 412.61 L213.94 413.1 L214.13 413.59 L214.32 414.09 L214.51 414.58 L214.57 414.74 M218.62 425.22 L218.69 425.38 L218.88 425.87 L219.07 426.36 L219.27 426.85 L219.46 427.34 L219.66 427.82 L219.85 428.31 L220.05 428.8 L220.24 429.29 L220.44 429.78 L220.63 430.26 L220.76 430.59 M224.91 440.63 L224.97 440.79 L225.18 441.28 L225.38 441.76 L225.59 442.24 L225.8 442.73 L226 443.21 L226.21 443.69 L226.42 444.18 L226.63 444.66 L226.84 445.14 L227.05 445.63 L227.12 445.79 M231.36 455.25 L231.43 455.41 L231.65 455.89 L231.88 456.37 L232.1 456.85 L232.32 457.33 L232.55 457.8 L232.77 458.28 L233 458.76 L233.22 459.24 L233.46 459.14 M238.18 454.09 L238.27 454.03 L238.53 453.85 L238.79 453.67 L239.06 453.49 L239.29 453.35 L239.53 453.21 L239.77 453.07 L240.01 452.94 L240.25 452.81 L240.33 452.76 M245.55 451.31 L245.63 451.31 L245.89 451.3 L246.15 451.3 L246.4 451.3 L246.66 451.32 L246.92 451.34 L247.17 451.37 L247.43 451.4 L247.68 451.44 L247.77 451.45 M252.95 453.86 L253.03 453.93 L253.27 454.14 L253.51 454.35 L253.75 454.58 L253.98 454.81 L254.2 455.05 L254.43 455.29 L254.67 455.57 L254.92 455.88 L255.16 456.19 M259.78 454.59 L259.86 454.48 L260.09 454.12 L260.31 453.77 L260.54 453.42 L260.76 453.06 L260.98 452.7 L261.19 452.35 L261.4 451.99 L261.61 451.63 L261.82 451.26 L262.02 450.9 M266.37 441.7 L266.44 441.54 L266.63 441.05 L266.82 440.57 L267.01 440.08 L267.2 439.59 L267.39 439.1 L267.57 438.61 L267.75 438.12 L267.93 437.63 L268.11 437.13 L268.29 436.64 L268.47 436.15 L268.53 435.98 M272.48 424.33 L272.54 424.16 L272.71 423.66 L272.88 423.16 L273.05 422.66 L273.22 422.16 L273.4 421.66 L273.57 421.16 L273.74 420.67 L273.91 420.17 L274.09 419.67 L274.26 419.17 L274.43 418.67 L274.61 418.17 M278.63 406.89 L278.69 406.72 L278.87 406.22 L279.06 405.73 L279.24 405.23 L279.42 404.74 L279.6 404.24 L279.78 403.74 L279.96 403.25 L280.14 402.75 L280.32 402.26 L280.51 401.76 L280.69 401.26 L280.75 401.1 M284.77 390.23 L284.83 390.06 L285.01 389.57 L285.2 389.08 L285.38 388.58 L285.56 388.09 L285.75 387.6 L285.93 387.11 L286.11 386.62 L286.29 386.12 L286.48 385.63 L286.66 385.14 L286.84 384.65 L286.96 384.32 M291.01 373.37 L291.07 373.2 L291.25 372.72 L291.43 372.23 L291.61 371.74 L291.79 371.25 L291.97 370.76 L292.15 370.28 L292.34 369.79 L292.52 369.3 L292.7 368.82 L292.89 368.33 L293.07 367.84 L293.14 367.68 M297.25 357.93 L297.32 357.77 L297.54 357.3 L297.77 356.83 L298 356.36 L298.23 355.89 L298.47 355.42 L298.71 354.96 L298.93 354.52 L299.13 354.15 L299.32 353.78 L299.45 353.53 M303.97 346.12 L304.04 346.02 L304.25 345.73 L304.46 345.43 L304.67 345.14 L304.88 344.84 L305.1 344.55 L305.32 344.25 L305.54 343.96 L305.76 343.67 L305.98 343.38 L306.13 343.18 M310.89 337.82 L310.96 337.75 L311.19 337.53 L311.41 337.32 L311.64 337.1 L311.87 336.89 L312.1 336.68 L312.33 336.48 L312.56 336.27 L312.8 336.07 L313.03 335.87 L313.11 335.8 M318.1 332.36 L318.18 332.31 L318.44 332.18 L318.69 332.05 L318.95 331.92 L319.21 331.8 L319.47 331.68 L319.73 331.57 L319.99 331.46 L320.25 331.35 M325.47 330.14 L325.55 330.14 L325.78 330.12 L326.02 330.12 L326.26 330.11 L326.51 330.11 L326.75 330.12 L326.99 330.12 L327.23 330.14 L327.47 330.15 L327.71 330.16 M332.91 331.29 L332.99 331.32 L333.24 331.41 L333.48 331.5 L333.73 331.59 L333.97 331.68 L334.21 331.78 L334.46 331.88 L334.7 331.98 L334.95 332.08 L335.11 332.15 M340.26 334.86 L340.34 334.91 L340.57 335.06 L340.81 335.2 L341.05 335.35 L341.28 335.5 L341.52 335.66 L341.75 335.81 L341.99 335.97 L342.22 336.12 L342.46 336.28 M347.53 340.03 L347.62 340.1 L347.87 340.3 L348.11 340.5 L348.36 340.7 L348.6 340.9 L348.85 341.1 L349.09 341.3 L349.33 341.5 L349.57 341.7 L349.73 341.83 M354.71 346.25 L354.8 346.33 L355.05 346.57 L355.3 346.81 L355.55 347.05 L355.8 347.29 L356.05 347.54 L356.3 347.78 L356.54 348.02 L356.79 348.26 L356.87 348.34 M361.72 353.44 L361.8 353.52 L362.03 353.78 L362.25 354.03 L362.48 354.28 L362.7 354.53 L362.92 354.79 L363.15 355.04 L363.37 355.3 L363.59 355.55 L363.81 355.81 L363.96 355.98 M368.72 361.78 L368.8 361.87 L369.01 362.14 L369.22 362.41 L369.44 362.68 L369.65 362.96 L369.86 363.23 L370.08 363.5 L370.29 363.78 L370.5 364.06 L370.72 364.33 L370.93 364.61 M375.61 370.7 L375.68 370.79 L375.9 371.07 L376.12 371.35 L376.34 371.63 L376.56 371.91 L376.79 372.19 L377.01 372.47 L377.23 372.75 L377.46 373.03 L377.68 373.31 L377.84 373.49 M382.63 378.94 L382.71 379.03 L382.95 379.29 L383.2 379.54 L383.45 379.79 L383.7 380.04 L383.96 380.29 L384.21 380.54 L384.46 380.79 L384.72 381.03 L384.81 381.11 M389.71 385.18 L389.8 385.24 L390.04 385.42 L390.29 385.59 L390.54 385.76 L390.79 385.93 L391.04 386.1 L391.3 386.26 L391.55 386.42 L391.81 386.59 L391.89 386.64 M397.03 389.29 L397.11 389.33 L397.35 389.43 L397.6 389.52 L397.84 389.62 L398.09 389.72 L398.33 389.81 L398.58 389.9 L398.83 389.99 L399.08 390.07 L399.24 390.13 M404.44 391.38 L404.53 391.4 L404.78 391.43 L405.03 391.46 L405.29 391.49 L405.54 391.52 L405.8 391.54 L406.05 391.57 L406.3 391.58 L406.56 391.6 L406.64 391.61 M411.91 391.33 L412 391.31 L412.24 391.27 L412.49 391.23 L412.74 391.18 L412.99 391.13 L413.24 391.08 L413.48 391.03 L413.73 390.97 L413.98 390.92 L414.06 390.89 M419.33 389.12 L419.41 389.09 L419.65 388.99 L419.89 388.88 L420.13 388.77 L420.37 388.67 L420.61 388.56 L420.85 388.44 L421.09 388.33 L421.32 388.22 L421.48 388.14 M426.61 385.25 L426.7 385.19 L426.96 385.02 L427.22 384.85 L427.48 384.68 L427.74 384.51 L428.01 384.34 L428.26 384.17 L428.52 383.99 L428.78 383.82 L428.87 383.76 M433.85 380.11 L433.93 380.05 L434.18 379.85 L434.43 379.66 L434.67 379.47 L434.92 379.27 L435.17 379.08 L435.41 378.88 L435.66 378.69 L435.9 378.5 L436.06 378.37 M441.06 374.36 L441.14 374.29 L441.39 374.1 L441.63 373.92 L441.87 373.73 L442.11 373.54 L442.35 373.35 L442.59 373.17 L442.83 372.98 L443.07 372.8 L443.23 372.67 M448.27 369.13 L448.36 369.08 L448.6 368.92 L448.85 368.77 L449.1 368.61 L449.35 368.46 L449.6 368.32 L449.85 368.17 L450.1 368.02 L450.36 367.88 L450.44 367.83 M455.63 365.45 L455.72 365.41 L455.99 365.32 L456.26 365.23 L456.52 365.15 L456.76 365.07 L457 365 L457.24 364.93 L457.48 364.86 L457.72 364.8 L457.8 364.78 M463.06 363.95 L463.14 363.94 L463.4 363.93 L463.66 363.91 L463.92 363.9 L464.18 363.89 L464.44 363.87 L464.71 363.87 L464.97 363.86 L465.23 363.85 M470.5 363.88 L470.59 363.89 L470.86 363.89 L471.13 363.9 L471.4 363.9 L471.68 363.91 L471.95 363.91 L472.22 363.92 L472.49 363.92 L472.67 363.92 M478.01 363.83 L478.1 363.82 L478.37 363.8 L478.64 363.78 L478.9 363.76 L479.17 363.74 L479.44 363.71 L479.71 363.68 L479.97 363.65 L480.15 363.63 M485.38 362.5 L485.46 362.47 L485.72 362.39 L485.97 362.31 L486.23 362.22 L486.48 362.14 L486.73 362.05 L486.99 361.97 L487.24 361.88 L487.49 361.8 L487.57 361.77 M492.86 360.31 L492.94 360.29 L493.18 360.26 L493.43 360.23 L493.68 360.21 L493.92 360.19 L494.17 360.18 L494.41 360.17 L494.66 360.18 L494.9 360.18 L494.98 360.18 M500.26 361.41 L500.34 361.44 L500.58 361.53 L500.82 361.63 L501.06 361.73 L501.3 361.83 L501.54 361.94 L501.78 362.04 L502.02 362.15 L502.26 362.26 L502.42 362.33 M507.56 364.98 L507.64 365.04 L507.91 365.19 L508.17 365.34 L508.43 365.49 L508.69 365.65 L508.95 365.81 L509.21 365.97 L509.47 366.13 L509.73 366.29 L509.81 366.34 M514.82 369.81 L514.9 369.87 L515.14 370.06 L515.39 370.24 L515.63 370.43 L515.86 370.62 L516.1 370.81 L516.34 371 L516.58 371.19 L516.81 371.39 L517.05 371.58 M521.99 376.14 L522.07 376.22 L522.32 376.47 L522.57 376.73 L522.81 376.99 L523.05 377.24 L523.29 377.5 L523.53 377.76 L523.77 378.02 L524 378.29 L524.24 378.55 M528.96 384.63 L529.04 384.74 L529.27 385.09 L529.5 385.44 L529.73 385.79 L529.96 386.14 L530.18 386.49 L530.41 386.84 L530.63 387.2 L530.85 387.55 L531.06 387.91 L531.13 388.03 M535.58 396.47 L535.65 396.63 L535.87 397.11 L536.08 397.58 L536.3 398.06 L536.51 398.54 L536.72 399.02 L536.93 399.51 L537.13 399.99 L537.34 400.47 L537.54 400.96 L537.74 401.44 M541.87 412.44 L541.92 412.61 L542.1 413.11 L542.27 413.6 L542.44 414.1 L542.6 414.6 L542.77 415.1 L542.94 415.6 L543.14 416.21 L543.36 416.88 L543.58 417.54 L543.8 418.21 L544.01 418.88 M547.82 431.42 L547.89 431.65 L548.08 432.32 L548.28 433 L548.47 433.67 L548.66 434.35 L548.86 435.02 L549.05 435.7 L549.24 436.37 L549.43 437.05 L549.62 437.73 L549.81 438.4 L549.94 438.85 M553.66 452.12 L553.72 452.35 L553.91 453.02 L554.1 453.69 L554.3 454.37 L554.49 455.04 L554.68 455.71 L554.88 456.38 L555.07 457.05 L555.27 457.28 L555.49 456.63 L555.71 455.98 L555.78 455.76 M559.61 443.32 L559.67 443.09 L559.87 442.42 L560.06 441.74 L560.25 441.06 L560.43 440.38 L560.62 439.7 L560.81 439.01 L560.99 438.33 L561.18 437.65 L561.36 436.96 L561.54 436.28 L561.72 435.59 M565.31 420.93 L565.37 420.7 L565.52 420.02 L565.68 419.33 L565.83 418.64 L565.99 417.96 L566.14 417.28 L566.29 416.59 L566.45 415.91 L566.6 415.23 L566.75 414.54 L566.89 413.86 L567.04 413.18 L567.19 412.5 L567.29 412.05 M570.74 395.85 L570.79 395.63 L570.94 394.95 L571.09 394.27 L571.25 393.59 L571.4 392.91 L571.56 392.23 L571.71 391.54 L571.87 390.86 L572.03 390.17 L572.19 389.49 L572.36 388.8 L572.53 388.11 L572.69 387.42 L572.75 387.19 M576.43 373.77 L576.48 373.59 L576.66 373.05 L576.85 372.52 L577.04 372 L577.24 371.5 L577.46 371.01 L577.67 370.58 L577.87 370.22 L578.08 369.89 L578.29 369.56 L578.52 369.27 M583.54 368.01 L583.62 368.03 L583.88 368.12 L584.13 368.21 L584.37 368.32 L584.62 368.43 L584.88 368.57 L585.14 368.72 L585.38 368.88 L585.62 369.05 L585.7 369.11 M590.46 376.29 L590.53 376.42 L590.76 376.83 L590.99 377.24 L591.23 377.64 L591.46 378.04 L591.7 378.44 L591.94 378.82 L592.18 379.18 L592.39 379.49 L592.6 379.79 M597.45 383.61 L597.53 383.63 L597.79 383.66 L598.05 383.69 L598.32 383.7 L598.59 383.69 L598.86 383.68 L599.12 383.64 L599.39 383.6 L599.66 383.53 M604.47 376.55 L604.53 376.36 L604.73 375.59 L604.92 374.83 L605.09 374.08 L605.26 373.35 L605.41 372.62 L605.55 371.91 L605.69 371.21 L605.81 370.51 L605.99 369.48 L606.16 368.47 L606.32 367.46 L606.43 366.78 M609.47 347.97 L609.53 347.62 L609.69 346.58 L609.85 345.54 L610.01 344.49 L610.16 343.45 L610.31 342.4 L610.46 341.35 L610.61 340.3 L610.75 339.25 L610.89 338.21 L611.03 337.16 L611.16 336.11 M613.21 312.32 L613.23 311.97 L613.29 310.92 L613.35 309.87 L613.41 308.82 L613.46 307.77 L613.52 306.72 L613.57 305.67 L613.62 304.62 L613.67 303.57 L613.72 302.52 L613.77 301.47 L613.82 300.42 L613.87 299.37 L613.92 298.32 L613.97 297.27 M615.16 272.06 L615.17 271.71 L615.22 270.66 L615.27 269.61 L615.32 268.56 L615.37 267.51 L615.42 266.46 L615.47 265.41 L615.52 264.36 L615.56 263.31 L615.61 262.26 L615.66 261.21 L615.71 260.16 L615.76 259.11 L615.81 258.05 L615.86 257 M617.01 231.78 L617.02 231.43 L617.07 230.38 L617.12 229.33 L617.17 228.28 L617.21 227.23 L617.26 226.17 L617.31 225.12 L617.35 224.07 L617.4 223.02 L617.45 221.97 L617.49 220.92 L617.54 219.87 L617.59 218.82 L617.63 217.76 L617.68 216.71 L617.69 216.36 M618.76 191.48 L618.78 191.13 L618.82 190.07 L618.86 189.02 L618.91 187.97 L618.95 186.92 L618.99 185.87 L619.04 184.82 L619.08 183.76 L619.12 182.71 L619.17 181.66 L619.21 180.61 L619.25 179.56 L619.29 178.5 L619.34 177.45 L619.38 176.4 L619.39 176.05 M620.37 150.8 L620.38 150.45 L620.42 149.4 L620.46 148.35 L620.5 147.3 L620.54 146.25 L620.57 145.19 L620.61 144.14 L620.65 143.09 L620.69 142.04 L620.73 140.99 L620.76 139.93 L620.8 138.88 L620.84 137.83 L620.87 136.78 L620.91 135.73 L620.92 135.38 M621.76 110.12 L621.77 109.77 L621.8 108.72 L621.83 107.67 L621.86 106.62 L621.89 105.56 L621.93 104.51 L621.96 103.46 L621.99 102.41 L622.02 101.36 L622.05 100.3 L622.08 99.25 L622.11 98.2 L622.14 97.15 L622.17 96.1 L622.2 95.04 L622.21 94.69 M622.87 69.09 L622.88 68.74 L622.9 67.69 L622.93 66.63 L622.95 65.58 L622.97 64.53 L623 63.48 L623.02 62.43 L623.04 61.37 L623.07 60.32 L623.09 59.27 L623.11 58.22 L623.13 57.17 L623.15 56.11 L623.17 55.06 L623.2 54.01 L623.2 53.66 M623.64 28.06 L623.64 27.71 L623.66 26.66 L623.67 25.6 L623.69 24.55 L623.7 23.5" stroke="#0000ff" stroke-width="4.8" fill="none" stroke-linejoin="round" stroke-linecap="round"/>
</g>
<text transform="translate(96.5 494) scale(0.98 1.07)" font-size="30.4" text-anchor="middle">0</text>
<text transform="translate(206.3 494) scale(0.98 1.07)" font-size="30.4" text-anchor="middle">1500</text>
<text transform="translate(316.1 494) scale(0.98 1.07)" font-size="30.4" text-anchor="middle">3000</text>
<text transform="translate(425.9 494) scale(0.98 1.07)" font-size="30.4" text-anchor="middle">4500</text>
<text transform="translate(535.7 494) scale(0.98 1.07)" font-size="30.4" text-anchor="middle">6000</text>
<text transform="translate(645.5 494) scale(0.98 1.07)" font-size="30.4" text-anchor="middle">7500</text>
<text transform="translate(87.9 469.8) scale(0.985 1.05)" font-size="28.8" text-anchor="end">0</text>
<text transform="translate(87.9 381) scale(0.985 1.05)" font-size="28.8" text-anchor="end">30</text>
<text transform="translate(87.9 292.2) scale(0.985 1.05)" font-size="28.8" text-anchor="end">60</text>
<text transform="translate(87.9 203.4) scale(0.985 1.05)" font-size="28.8" text-anchor="end">90</text>
<text transform="translate(87.9 114.6) scale(0.985 1.05)" font-size="28.8" text-anchor="end">120</text>
<text transform="translate(87.9 25.8) scale(0.985 1.05)" font-size="28.8" text-anchor="end">150</text>
<text x="371" y="548" font-size="38.3" text-anchor="middle">Time (s)</text>
<text transform="translate(36.2 239.35) rotate(-90)" font-size="38.6" text-anchor="middle">Voltage Error (mV)</text>
<text x="-1" y="39.1" font-size="38.2">(a)</text>
<rect x="500.4" y="35" width="108" height="60.8" fill="#fff" stroke="#000" stroke-width="2.5"/>
<path d="M503.5 51.2H554.7" stroke="#ff0000" stroke-width="4.8" stroke-linecap="round"/>
<path d="M503.5 80.2H554.7" stroke="#0000ff" stroke-width="4.8" stroke-linecap="round" stroke-dasharray="17 24"/>
<text x="560.4" y="59.3" font-size="23.3">SP+</text>
<text x="560.4" y="88.1" font-size="23.3">ESC</text>
<path d="M895.88 459.7V10.1M1007.16 459.7V10.1M1118.44 459.7V10.1M1229.72 459.7V10.1" stroke="#7d7d7d" stroke-width="2.3" stroke-dasharray="11.1 10.4" fill="none"/>
<path d="M784.6 347.3H1341M784.6 234.9H1341M784.6 122.5H1341" stroke="#7d7d7d" stroke-width="2.3" stroke-dasharray="11.1 10.36" fill="none"/>
<path d="M895.88 459.7V451.2M1007.16 459.7V451.2M1118.44 459.7V451.2M1229.72 459.7V451.2M784.6 347.3H793.1M784.6 234.9H793.1M784.6 122.5H793.1" stroke="#000" stroke-width="3.3" fill="none"/>
<rect x="784.6" y="10.1" width="556.4" height="449.6" fill="none" stroke="#000" stroke-width="4.7"/>
<clipPath id="clipb"><rect x="784.6" y="10.1" width="556.4" height="449.6"/></clipPath>
<g clip-path="url(#clipb)">
<path d="M784.8 212 L784.79 212.69 L784.78 213.39 L784.77 214.08 L784.76 214.78 L784.75 215.47 L784.74 216.17 L784.73 216.86 L784.72 217.56 L784.72 218.25 L784.71 218.95 L784.7 219.64 L784.69 220.34 L784.68 221.03 L784.68 221.73 L784.67 222.42 L784.66 223.12 L784.66 223.82 L784.65 224.51 L784.65 225.21 L784.64 225.91 L784.64 226.6 L784.63 227.3 L784.63 228 L784.62 228.69 L784.62 229.39 L784.61 230.09 L784.61 230.79 L784.61 231.48 L784.6 232.18 L784.6 232.88 L784.6 233.58 L784.59 234.28 L784.59 234.97 L784.59 235.67 L784.59 236.37 L784.59 237.07 L784.58 237.77 L784.58 238.47 L784.58 239.17 L784.58 239.86 L784.58 240.56 L784.58 241.26 L784.58 241.96 L784.58 242.66 L784.58 243.36 L784.58 244.06 L784.58 244.76 L784.58 245.46 L784.58 246.16 L784.58 246.86 L784.59 247.56 L784.59 248.26 L784.59 248.96 L784.59 249.66 L784.59 250.36 L784.59 251.06 L784.6 251.76 L784.6 252.46 L784.6 253.16 L784.61 253.86 L784.61 254.57 L784.61 255.27 L784.62 255.97 L784.62 256.67 L784.62 257.37 L784.63 258.07 L784.63 258.77 L784.64 259.47 L784.64 260.18 L784.65 260.88 L784.65 261.58 L784.66 262.28 L784.66 262.98 L784.67 263.68 L784.67 264.39 L784.68 265.09 L784.68 265.79 L784.69 266.49 L784.7 267.19 L784.7 267.9 L784.71 268.6 L784.72 269.3 L784.72 270 L784.73 270.71 L784.74 271.41 L784.74 272.11 L784.75 272.81 L784.76 273.52 L784.77 274.22 L784.77 274.92 L784.78 275.62 L784.79 276.33 L784.8 277.03 L784.81 277.73 L784.82 278.44 L784.82 279.14 L784.83 279.84 L784.84 280.54 L784.85 281.25 L784.86 281.95 L784.87 282.65 L784.88 283.36 L784.89 284.06 L784.9 284.76 L784.91 285.47 L784.91 286.17 L784.92 286.87 L784.93 287.58 L784.94 288.28 L784.95 288.98 L784.96 289.69 L784.97 290.39 L784.98 291.09 L785 291.8 L785.01 292.5 L785.02 293.2 L785.03 293.91 L785.04 294.61 L785.05 295.31 L785.06 296.02 L785.07 296.72 L785.08 297.42 L785.09 298.13 L785.1 298.83 L785.11 299.54 L785.13 300.24 L785.14 300.94 L785.15 301.65 L785.16 302.35 L785.17 303.05 L785.18 303.76 L785.19 304.46 L785.21 305.16 L785.22 305.87 L785.23 306.57 L785.24 307.27 L785.25 307.98 L785.27 308.68 L785.28 309.38 L785.29 310.09 L785.3 310.79 L785.31 311.49 L785.33 312.2 L785.34 312.9 L785.35 313.6 L785.36 314.31 L785.38 315.01 L785.39 315.71 L785.4 316.42 L785.41 317.12 L785.43 317.82 L785.44 318.53 L785.45 319.23 L785.46 319.93 L785.48 320.64 L785.49 321.34 L785.5 322.04 L785.51 322.74 L785.53 323.45 L785.54 324.15 L785.55 324.85 L785.56 325.56 L785.58 326.26 L785.59 326.96 L785.6 327.66 L785.61 328.37 L785.63 329.07 L785.64 329.77 L785.65 330.47 L785.67 331.18 L785.68 331.88 L785.69 332.58 L785.7 333.28 L785.72 333.98 L785.73 334.69 L785.74 335.39 L785.75 336.09 L785.77 336.79 L785.78 337.49 L785.79 338.2 L785.8 338.9 L785.82 339.6 L785.83 340.3 L785.84 341 L785.85 341.7 L785.87 342.41 L785.88 343.11 L785.89 343.81 L785.9 344.51 L785.91 345.21 L785.93 345.91 L785.94 346.61 L785.95 347.31 L785.96 348.01 L785.98 348.71 L785.99 349.41 L786 350.11 L786.01 350.82 L786.02 351.52 L786.03 352.22 L786.05 352.92 L786.06 353.62 L786.07 354.32 L786.08 355.02 L786.09 355.72 L786.1 356.41 L786.11 357.11 L786.13 357.81 L786.14 358.51 L786.15 359.21 L786.16 359.91 L786.17 360.61 L786.18 361.31 L786.19 362.01 L786.2 362.71 L786.21 363.41 L786.22 364.1 L786.23 364.8 L786.24 365.5 L786.25 366.2 L786.26 366.9 L786.27 367.6 L786.28 368.29 L786.29 368.99 L786.3 369.69 L786.31 370.39 L786.32 371.08 L786.33 371.78 L786.34 372.48 L786.35 373.17 L786.36 373.87 L786.37 374.57 L786.38 375.26 L786.39 375.96 L786.39 376.66 L786.4 377.35 L786.41 378.05 L786.42 378.75 L786.43 379.44 L786.44 380.14 L786.44 380.83 L786.45 381.53 L786.46 382.22 L786.47 382.92 L786.47 383.61 L786.48 384.31 L786.49 385 L786.5 385.7 L786.5 386.39 L786.51 387.09 L786.52 387.78 L786.52 388.47 L786.53 389.17 L786.53 389.86 L786.54 390.55 L786.55 391.25 L786.55 391.94 L786.56 392.63 L786.56 393.33 L786.57 394.02 L786.58 394.71 L786.59 395.41 L786.59 396.1 L786.6 396.79 L786.61 397.49 L786.62 398.18 L786.63 398.87 L786.64 399.57 L786.66 400.26 L786.67 400.96 L786.69 401.65 L786.7 402.35 L786.72 403.04 L786.74 403.74 L786.76 404.44 L786.78 405.14 L786.81 405.83 L786.84 406.53 L786.86 407.23 L786.89 407.93 L786.93 408.63 L786.96 409.33 L787 410.03 L787.04 410.74 L787.08 411.44 L787.13 412.14 L787.17 412.85 L787.22 413.56 L787.28 414.26 L787.33 414.97 L787.39 415.68 L787.45 416.39 L787.52 417.1 L787.58 417.81 L787.66 418.53 L787.73 419.24 L787.81 419.96 L787.89 420.67 L787.98 421.39 L788.07 422.11 L788.16 422.83 L788.26 423.55 L788.36 424.28 L788.46 425 L788.57 425.73 L788.69 426.45 L788.81 427.18 L788.93 427.91 L789.06 428.65 L789.19 429.38 L789.33 430.11 L789.47 430.85 L789.61 431.59 L789.77 432.33 L789.92 433.07 L790.09 433.81 L790.27 434.53 L790.46 435.22 L790.67 435.88 L790.9 436.49 L791.17 437.04 L791.46 437.54 L791.78 437.95 L792.15 438.28 L792.55 438.52 L793 438.66 L793.5 438.68 L794.02 438.6 L794.55 438.43 L795.08 438.17 L795.59 437.82 L796.06 437.4 L796.5 436.92 L796.92 436.37 L797.3 435.77 L797.67 435.12 L798.01 434.43 L798.33 433.72 L798.63 432.98 L798.93 432.23 L799.21 431.47 L799.48 430.71 L799.75 429.95 L800.02 429.21 L800.28 428.47 L800.53 427.74 L800.79 427.02 L801.04 426.31 L801.28 425.6 L801.53 424.9 L801.77 424.21 L802 423.52 L802.24 422.84 L802.47 422.17 L802.69 421.5 L802.92 420.83 L803.14 420.17 L803.36 419.51 L803.58 418.85 L803.79 418.2 L804.01 417.55 L804.22 416.9 L804.43 416.26 L804.64 415.62 L804.84 414.97 L805.05 414.33 L805.25 413.69 L805.45 413.05 L805.65 412.41 L805.85 411.77 L806.05 411.12 L806.24 410.48 L806.44 409.83 L806.64 409.18 L806.83 408.54 L807.03 407.89 L807.22 407.23 L807.41 406.58 L807.6 405.93 L807.79 405.27 L807.98 404.62 L808.17 403.96 L808.36 403.3 L808.55 402.64 L808.73 401.98 L808.92 401.32 L809.1 400.66 L809.29 400 L809.47 399.33 L809.65 398.67 L809.84 398 L810.02 397.33 L810.2 396.67 L810.38 396 L810.56 395.33 L810.73 394.66 L810.91 393.98 L811.09 393.31 L811.26 392.64 L811.44 391.96 L811.61 391.29 L811.79 390.61 L811.96 389.93 L812.13 389.26 L812.3 388.58 L812.47 387.9 L812.64 387.22 L812.81 386.54 L812.98 385.86 L813.15 385.18 L813.32 384.5 L813.48 383.81 L813.65 383.13 L813.82 382.45 L813.98 381.76 L814.15 381.08 L814.31 380.39 L814.47 379.71 L814.64 379.02 L814.8 378.33 L814.96 377.64 L815.12 376.96 L815.28 376.27 L815.44 375.58 L815.6 374.89 L815.76 374.2 L815.92 373.51 L816.07 372.82 L816.23 372.13 L816.39 371.44 L816.54 370.75 L816.7 370.06 L816.85 369.37 L817.01 368.68 L817.16 367.99 L817.31 367.3 L817.46 366.6 L817.62 365.91 L817.77 365.22 L817.92 364.53 L818.07 363.84 L818.22 363.14 L818.37 362.45 L818.52 361.76 L818.67 361.07 L818.82 360.38 L818.97 359.68 L819.11 358.99 L819.26 358.3 L819.41 357.61 L819.55 356.92 L819.7 356.23 L819.84 355.53 L819.99 354.84 L820.13 354.15 L820.28 353.46 L820.42 352.77 L820.57 352.08 L820.71 351.39 L820.85 350.7 L820.99 350.01 L821.14 349.32 L821.28 348.63 L821.42 347.94 L821.56 347.25 L821.7 346.56 L821.85 345.88 L821.99 345.19 L822.13 344.5 L822.27 343.81 L822.41 343.12 L822.55 342.44 L822.69 341.75 L822.83 341.06 L822.97 340.37 L823.11 339.69 L823.25 339 L823.4 338.32 L823.54 337.63 L823.68 336.94 L823.82 336.26 L823.96 335.57 L824.1 334.89 L824.24 334.2 L824.38 333.52 L824.53 332.83 L824.67 332.15 L824.81 331.47 L824.95 330.78 L825.1 330.1 L825.24 329.41 L825.38 328.73 L825.53 328.05 L825.67 327.37 L825.82 326.68 L825.96 326 L826.11 325.32 L826.25 324.64 L826.4 323.96 L826.54 323.27 L826.69 322.59 L826.84 321.91 L826.99 321.23 L827.14 320.55 L827.29 319.87 L827.44 319.19 L827.59 318.51 L827.74 317.83 L827.89 317.15 L828.04 316.47 L828.2 315.8 L828.35 315.12 L828.5 314.44 L828.66 313.76 L828.82 313.08 L828.97 312.41 L829.13 311.73 L829.29 311.05 L829.45 310.37 L829.61 309.7 L829.77 309.02 L829.93 308.35 L830.09 307.67 L830.26 307 L830.42 306.32 L830.59 305.65 L830.75 304.97 L830.92 304.3 L831.09 303.62 L831.26 302.95 L831.43 302.27 L831.6 301.6 L831.78 300.93 L831.95 300.25 L832.13 299.58 L832.3 298.91 L832.48 298.24 L832.66 297.57 L832.84 296.89 L833.02 296.22 L833.2 295.55 L833.39 294.88 L833.57 294.21 L833.76 293.54 L833.95 292.87 L834.13 292.2 L834.33 291.53 L834.52 290.86 L834.71 290.19 L834.91 289.53 L835.1 288.86 L835.3 288.19 L835.5 287.52 L835.7 286.85 L835.9 286.19 L836.1 285.52 L836.31 284.85 L836.52 284.19 L836.73 283.52 L836.94 282.86 L837.15 282.19 L837.36 281.53 L837.58 280.86 L837.79 280.2 L838.01 279.53 L838.23 278.87 L838.45 278.2 L838.68 277.54 L838.9 276.88 L839.13 276.21 L839.36 275.55 L839.59 274.89 L839.82 274.23 L840.06 273.57 L840.3 272.9 L840.53 272.24 L840.77 271.58 L841.02 270.92 L841.26 270.26 L841.51 269.6 L841.76 268.94 L842.01 268.28 L842.26 267.62 L842.52 266.97 L842.77 266.31 L843.03 265.65 L843.29 264.99 L843.56 264.33 L843.82 263.68 L844.09 263.02 L844.36 262.36 L844.63 261.71 L844.91 261.05 L845.18 260.4 L845.46 259.74 L845.74 259.09 L846.03 258.43 L846.31 257.78 L846.6 257.12 L846.89 256.47 L847.19 255.82 L847.48 255.16 L847.78 254.51 L848.08 253.86 L848.38 253.21 L848.69 252.55 L849 251.9 L849.31 251.25 L849.62 250.6 L849.94 249.95 L850.25 249.3 L850.58 248.65 L850.9 248 L851.23 247.35 L851.55 246.7 L851.89 246.06 L852.22 245.41 L852.56 244.76 L852.9 244.11 L853.24 243.47 L853.59 242.82 L853.94 242.18 L854.3 241.55 L854.66 240.92 L855.02 240.3 L855.4 239.69 L855.78 239.09 L856.16 238.5 L856.56 237.92 L856.96 237.36 L857.37 236.81 L857.79 236.27 L858.22 235.75 L858.67 235.25 L859.12 234.77 L859.58 234.32 L860.05 233.88 L860.54 233.46 L861.04 233.07 L861.55 232.7 L862.07 232.36 L862.61 232.05 L863.17 231.77 L863.73 231.52 L864.32 231.29 L864.92 231.1 L865.53 230.95 L866.17 230.83 L866.82 230.74 L867.49 230.69 L868.18 230.68 L868.88 230.71 L869.59 230.77 L870.31 230.88 L871.04 231.01 L871.76 231.19 L872.47 231.4 L873.18 231.65 L873.87 231.93 L874.54 232.25 L875.19 232.6 L875.81 232.98 L876.4 233.4 L876.96 233.85 L877.48 234.33 L877.98 234.83 L878.45 235.36 L878.9 235.92 L879.32 236.49 L879.73 237.08 L880.11 237.69 L880.48 238.31 L880.84 238.95 L881.18 239.6 L881.51 240.25 L881.84 240.91 L882.15 241.57 L882.46 242.23 L882.77 242.9 L883.08 243.55 L883.39 244.21 L883.7 244.86 L884.01 245.51 L884.32 246.15 L884.63 246.79 L884.95 247.43 L885.26 248.06 L885.57 248.69 L885.88 249.32 L886.19 249.94 L886.5 250.57 L886.8 251.19 L887.11 251.82 L887.41 252.44 L887.72 253.06 L888.02 253.68 L888.32 254.3 L888.62 254.92 L888.91 255.54 L889.21 256.17 L889.5 256.79 L889.78 257.42 L890.07 258.05 L890.35 258.68 L890.63 259.31 L890.91 259.94 L891.18 260.58 L891.45 261.22 L891.72 261.86 L891.98 262.5 L892.24 263.14 L892.5 263.78 L892.76 264.43 L893.02 265.08 L893.27 265.73 L893.52 266.38 L893.77 267.03 L894.02 267.68 L894.27 268.34 L894.51 268.99 L894.75 269.65 L895 270.31 L895.23 270.97 L895.47 271.63 L895.71 272.29 L895.95 272.95 L896.18 273.61 L896.41 274.27 L896.65 274.94 L896.88 275.6 L897.11 276.26 L897.34 276.93 L897.57 277.59 L897.8 278.26 L898.03 278.92 L898.25 279.59 L898.48 280.26 L898.71 280.92 L898.93 281.59 L899.16 282.26 L899.39 282.92 L899.61 283.59 L899.84 284.26 L900.06 284.93 L900.29 285.59 L900.51 286.26 L900.74 286.93 L900.96 287.6 L901.18 288.26 L901.41 288.93 L901.63 289.6 L901.86 290.27 L902.08 290.94 L902.3 291.6 L902.53 292.27 L902.75 292.94 L902.98 293.61 L903.2 294.27 L903.43 294.94 L903.65 295.61 L903.88 296.27 L904.1 296.94 L904.33 297.61 L904.55 298.27 L904.78 298.94 L905.01 299.61 L905.23 300.27 L905.46 300.94 L905.69 301.6 L905.92 302.27 L906.15 302.93 L906.38 303.59 L906.61 304.26 L906.84 304.92 L907.07 305.58 L907.3 306.24 L907.53 306.91 L907.77 307.57 L908 308.23 L908.24 308.89 L908.47 309.55 L908.71 310.21 L908.95 310.87 L909.19 311.52 L909.43 312.18 L909.67 312.84 L909.91 313.49 L910.15 314.15 L910.39 314.8 L910.64 315.46 L910.88 316.11 L911.13 316.76 L911.38 317.41 L911.63 318.06 L911.88 318.71 L912.13 319.36 L912.38 320.01 L912.64 320.66 L912.89 321.31 L913.15 321.95 L913.41 322.6 L913.67 323.24 L913.93 323.88 L914.19 324.53 L914.46 325.17 L914.73 325.81 L914.99 326.45 L915.26 327.08 L915.53 327.72 L915.81 328.36 L916.08 328.99 L916.36 329.63 L916.63 330.26 L916.92 330.89 L917.2 331.52 L917.49 332.15 L917.78 332.79 L918.07 333.42 L918.37 334.05 L918.67 334.68 L918.99 335.31 L919.3 335.95 L919.63 336.58 L919.96 337.22 L920.29 337.86 L920.64 338.5 L921 339.15 L921.36 339.79 L921.73 340.44 L922.12 341.09 L922.51 341.75 L922.92 342.4 L923.33 343.05 L923.76 343.69 L924.2 344.31 L924.65 344.9 L925.11 345.46 L925.58 345.98 L926.07 346.44 L926.57 346.86 L927.08 347.21 L927.6 347.49 L928.14 347.69 L928.69 347.81 L929.25 347.84 L929.82 347.79 L930.4 347.65 L930.98 347.45 L931.56 347.18 L932.15 346.84 L932.73 346.45 L933.31 346.01 L933.87 345.53 L934.43 345.01 L934.97 344.45 L935.5 343.86 L936.01 343.25 L936.49 342.63 L936.95 342 L937.39 341.36 L937.79 340.71 L938.17 340.08 L938.52 339.44 L938.85 338.8 L939.16 338.16 L939.45 337.53 L939.72 336.89 L939.99 336.25 L940.24 335.62 L940.49 334.98 L940.73 334.34 L940.97 333.7 L941.22 333.06 L941.45 332.42 L941.69 331.78 L941.93 331.13 L942.17 330.49 L942.41 329.84 L942.64 329.2 L942.88 328.55 L943.11 327.9 L943.34 327.25 L943.57 326.6 L943.8 325.95 L944.03 325.3 L944.26 324.65 L944.49 324 L944.72 323.34 L944.95 322.69 L945.17 322.03 L945.4 321.37 L945.62 320.72 L945.84 320.06 L946.07 319.4 L946.29 318.74 L946.51 318.08 L946.73 317.42 L946.95 316.76 L947.17 316.1 L947.38 315.43 L947.6 314.77 L947.81 314.11 L948.03 313.44 L948.24 312.78 L948.46 312.11 L948.67 311.44 L948.88 310.78 L949.09 310.11 L949.3 309.44 L949.51 308.77 L949.72 308.1 L949.93 307.43 L950.13 306.76 L950.34 306.09 L950.54 305.42 L950.75 304.75 L950.95 304.08 L951.15 303.4 L951.36 302.73 L951.56 302.06 L951.76 301.38 L951.96 300.71 L952.16 300.03 L952.35 299.36 L952.55 298.68 L952.75 298.01 L952.94 297.33 L953.14 296.65 L953.33 295.98 L953.53 295.3 L953.72 294.62 L953.91 293.95 L954.1 293.27 L954.29 292.59 L954.48 291.91 L954.67 291.24 L954.86 290.56 L955.05 289.88 L955.24 289.2 L955.42 288.52 L955.61 287.84 L955.79 287.16 L955.98 286.48 L956.16 285.8 L956.34 285.12 L956.52 284.44 L956.71 283.76 L956.89 283.09 L957.07 282.41 L957.25 281.73 L957.42 281.05 L957.6 280.37 L957.78 279.69 L957.96 279.01 L958.13 278.33 L958.31 277.65 L958.49 276.97 L958.66 276.29 L958.83 275.61 L959.01 274.93 L959.18 274.24 L959.36 273.56 L959.53 272.88 L959.7 272.2 L959.87 271.52 L960.04 270.84 L960.22 270.16 L960.39 269.48 L960.56 268.8 L960.73 268.12 L960.9 267.44 L961.07 266.76 L961.24 266.08 L961.41 265.4 L961.58 264.72 L961.75 264.04 L961.91 263.36 L962.08 262.68 L962.25 262 L962.42 261.32 L962.59 260.64 L962.76 259.96 L962.93 259.28 L963.09 258.6 L963.26 257.92 L963.43 257.24 L963.6 256.56 L963.77 255.88 L963.93 255.2 L964.1 254.52 L964.27 253.84 L964.44 253.16 L964.61 252.48 L964.78 251.81 L964.95 251.13 L965.11 250.45 L965.28 249.77 L965.45 249.09 L965.62 248.41 L965.79 247.73 L965.96 247.05 L966.13 246.38 L966.3 245.7 L966.47 245.02 L966.64 244.34 L966.82 243.66 L966.99 242.99 L967.16 242.31 L967.33 241.63 L967.5 240.95 L967.68 240.28 L967.85 239.6 L968.03 238.92 L968.2 238.25 L968.38 237.57 L968.55 236.89 L968.73 236.22 L968.9 235.54 L969.08 234.86 L969.26 234.19 L969.44 233.51 L969.62 232.84 L969.8 232.16 L969.98 231.49 L970.16 230.81 L970.34 230.14 L970.52 229.46 L970.7 228.79 L970.89 228.11 L971.07 227.44 L971.26 226.77 L971.44 226.09 L971.63 225.42 L971.82 224.75 L972 224.07 L972.19 223.4 L972.38 222.73 L972.57 222.06 L972.77 221.38 L972.96 220.71 L973.15 220.04 L973.35 219.37 L973.54 218.7 L973.74 218.03 L973.94 217.36 L974.13 216.69 L974.33 216.02 L974.53 215.35 L974.74 214.68 L974.94 214.01 L975.14 213.34 L975.35 212.67 L975.55 212 L975.76 211.33 L975.97 210.67 L976.18 210 L976.39 209.33 L976.6 208.66 L976.81 208 L977.03 207.33 L977.24 206.66 L977.46 206 L977.68 205.33 L977.9 204.67 L978.12 204 L978.34 203.34 L978.56 202.67 L978.79 202.01 L979.01 201.35 L979.24 200.68 L979.47 200.02 L979.7 199.36 L979.93 198.7 L980.16 198.03 L980.4 197.37 L980.63 196.71 L980.87 196.05 L981.11 195.39 L981.35 194.73 L981.59 194.07 L981.83 193.41 L982.07 192.75 L982.32 192.09 L982.56 191.44 L982.81 190.78 L983.06 190.12 L983.31 189.47 L983.56 188.81 L983.81 188.15 L984.06 187.5 L984.32 186.84 L984.57 186.19 L984.83 185.53 L985.09 184.88 L985.35 184.23 L985.61 183.57 L985.87 182.92 L986.13 182.27 L986.4 181.62 L986.66 180.97 L986.93 180.32 L987.2 179.67 L987.47 179.02 L987.74 178.37 L988.01 177.72 L988.28 177.07 L988.56 176.42 L988.83 175.77 L989.11 175.13 L989.39 174.48 L989.67 173.84 L989.95 173.19 L990.23 172.55 L990.51 171.9 L990.79 171.26 L991.08 170.62 L991.37 169.97 L991.65 169.33 L991.94 168.69 L992.23 168.05 L992.52 167.41 L992.82 166.77 L993.11 166.13 L993.41 165.49 L993.71 164.86 L994.02 164.23 L994.33 163.6 L994.65 162.98 L994.97 162.36 L995.31 161.75 L995.65 161.14 L996.01 160.54 L996.37 159.95 L996.75 159.36 L997.14 158.79 L997.55 158.22 L997.96 157.66 L998.4 157.12 L998.85 156.58 L999.32 156.06 L999.81 155.55 L1000.32 155.05 L1000.84 154.56 L1001.39 154.09 L1001.96 153.64 L1002.55 153.2 L1003.15 152.79 L1003.77 152.39 L1004.41 152.02 L1005.05 151.68 L1005.71 151.37 L1006.38 151.08 L1007.05 150.83 L1007.73 150.62 L1008.42 150.44 L1009.11 150.3 L1009.8 150.2 L1010.49 150.14 L1011.19 150.13 L1011.88 150.17 L1012.56 150.25 L1013.24 150.37 L1013.92 150.53 L1014.6 150.73 L1015.26 150.96 L1015.93 151.22 L1016.58 151.52 L1017.23 151.84 L1017.87 152.18 L1018.5 152.55 L1019.12 152.93 L1019.73 153.33 L1020.34 153.75 L1020.93 154.18 L1021.5 154.61 L1022.07 155.06 L1022.63 155.51 L1023.17 155.97 L1023.71 156.44 L1024.23 156.91 L1024.75 157.39 L1025.25 157.88 L1025.75 158.37 L1026.24 158.87 L1026.72 159.37 L1027.2 159.88 L1027.66 160.4 L1028.13 160.91 L1028.58 161.44 L1029.04 161.96 L1029.48 162.49 L1029.92 163.03 L1030.36 163.56 L1030.8 164.1 L1031.23 164.65 L1031.66 165.19 L1032.09 165.74 L1032.52 166.29 L1032.94 166.84 L1033.36 167.39 L1033.78 167.95 L1034.2 168.51 L1034.61 169.07 L1035.02 169.63 L1035.44 170.2 L1035.84 170.77 L1036.25 171.34 L1036.65 171.91 L1037.06 172.48 L1037.46 173.06 L1037.85 173.63 L1038.25 174.21 L1038.64 174.79 L1039.04 175.37 L1039.43 175.96 L1039.81 176.54 L1040.2 177.13 L1040.59 177.72 L1040.97 178.31 L1041.35 178.9 L1041.73 179.49 L1042.11 180.09 L1042.48 180.68 L1042.85 181.28 L1043.23 181.88 L1043.6 182.48 L1043.97 183.08 L1044.33 183.68 L1044.7 184.28 L1045.06 184.89 L1045.42 185.49 L1045.78 186.1 L1046.14 186.71 L1046.5 187.32 L1046.86 187.92 L1047.21 188.53 L1047.56 189.14 L1047.91 189.76 L1048.26 190.37 L1048.61 190.98 L1048.96 191.59 L1049.31 192.21 L1049.65 192.82 L1049.99 193.44 L1050.34 194.05 L1050.68 194.67 L1051.02 195.28 L1051.35 195.9 L1051.69 196.52 L1052.03 197.13 L1052.36 197.75 L1052.69 198.37 L1053.03 198.99 L1053.36 199.6 L1053.69 200.22 L1054.02 200.84 L1054.34 201.46 L1054.67 202.08 L1055 202.69 L1055.32 203.31 L1055.65 203.93 L1055.97 204.55 L1056.29 205.17 L1056.61 205.79 L1056.93 206.4 L1057.26 207.02 L1057.57 207.64 L1057.89 208.26 L1058.21 208.88 L1058.53 209.5 L1058.85 210.12 L1059.16 210.74 L1059.48 211.36 L1059.8 211.98 L1060.11 212.59 L1060.43 213.21 L1060.74 213.83 L1061.06 214.45 L1061.37 215.07 L1061.69 215.69 L1062 216.31 L1062.31 216.93 L1062.63 217.55 L1062.94 218.17 L1063.26 218.79 L1063.57 219.42 L1063.88 220.04 L1064.2 220.66 L1064.51 221.28 L1064.83 221.9 L1065.14 222.52 L1065.46 223.14 L1065.77 223.76 L1066.09 224.38 L1066.4 225 L1066.72 225.62 L1067.03 226.25 L1067.35 226.87 L1067.67 227.49 L1067.98 228.11 L1068.3 228.73 L1068.62 229.35 L1068.94 229.98 L1069.26 230.6 L1069.58 231.22 L1069.9 231.84 L1070.23 232.47 L1070.55 233.09 L1070.87 233.71 L1071.2 234.33 L1071.52 234.96 L1071.85 235.58 L1072.18 236.2 L1072.51 236.82 L1072.83 237.45 L1073.17 238.07 L1073.5 238.69 L1073.83 239.32 L1074.16 239.94 L1074.5 240.56 L1074.84 241.19 L1075.17 241.81 L1075.51 242.43 L1075.85 243.06 L1076.19 243.68 L1076.54 244.3 L1076.88 244.93 L1077.23 245.55 L1077.58 246.18 L1077.93 246.8 L1078.28 247.42 L1078.63 248.05 L1078.99 248.67 L1079.35 249.29 L1079.71 249.91 L1080.08 250.52 L1080.45 251.13 L1080.82 251.74 L1081.2 252.34 L1081.58 252.94 L1081.97 253.53 L1082.37 254.11 L1082.77 254.69 L1083.18 255.27 L1083.6 255.83 L1084.02 256.39 L1084.45 256.94 L1084.89 257.47 L1085.33 258 L1085.79 258.52 L1086.25 259.03 L1086.73 259.53 L1087.21 260.02 L1087.7 260.49 L1088.21 260.95 L1088.72 261.4 L1089.25 261.84 L1089.79 262.26 L1090.34 262.67 L1090.9 263.06 L1091.47 263.43 L1092.06 263.79 L1092.66 264.14 L1093.27 264.46 L1093.9 264.77 L1094.54 265.06 L1095.2 265.33 L1095.87 265.58 L1096.55 265.82 L1097.24 266.02 L1097.94 266.21 L1098.64 266.37 L1099.35 266.5 L1100.06 266.6 L1100.77 266.68 L1101.47 266.72 L1102.18 266.74 L1102.88 266.72 L1103.58 266.67 L1104.27 266.59 L1104.95 266.48 L1105.63 266.34 L1106.3 266.17 L1106.97 265.97 L1107.63 265.75 L1108.28 265.51 L1108.92 265.24 L1109.56 264.94 L1110.19 264.63 L1110.81 264.29 L1111.42 263.93 L1112.03 263.56 L1112.62 263.16 L1113.2 262.75 L1113.78 262.32 L1114.34 261.88 L1114.9 261.42 L1115.44 260.95 L1115.97 260.46 L1116.5 259.96 L1117.01 259.45 L1117.5 258.94 L1117.99 258.41 L1118.46 257.87 L1118.92 257.33 L1119.37 256.78 L1119.81 256.23 L1120.24 255.66 L1120.65 255.1 L1121.06 254.52 L1121.46 253.94 L1121.85 253.36 L1122.23 252.77 L1122.6 252.17 L1122.96 251.58 L1123.32 250.97 L1123.67 250.37 L1124.02 249.76 L1124.36 249.15 L1124.7 248.53 L1125.03 247.92 L1125.36 247.3 L1125.68 246.68 L1126 246.06 L1126.32 245.43 L1126.64 244.81 L1126.96 244.19 L1127.27 243.56 L1127.59 242.94 L1127.91 242.31 L1128.22 241.69 L1128.53 241.06 L1128.85 240.44 L1129.16 239.81 L1129.47 239.19 L1129.78 238.56 L1130.1 237.94 L1130.41 237.31 L1130.72 236.69 L1131.03 236.06 L1131.34 235.44 L1131.65 234.81 L1131.96 234.18 L1132.27 233.56 L1132.57 232.93 L1132.88 232.31 L1133.19 231.68 L1133.5 231.05 L1133.81 230.43 L1134.11 229.8 L1134.42 229.18 L1134.73 228.55 L1135.03 227.92 L1135.34 227.3 L1135.65 226.67 L1135.96 226.04 L1136.26 225.42 L1136.57 224.79 L1136.88 224.16 L1137.18 223.54 L1137.49 222.91 L1137.8 222.28 L1138.1 221.65 L1138.41 221.03 L1138.72 220.4 L1139.03 219.77 L1139.33 219.15 L1139.64 218.52 L1139.95 217.89 L1140.26 217.27 L1140.57 216.64 L1140.88 216.01 L1141.19 215.39 L1141.5 214.76 L1141.81 214.13 L1142.12 213.5 L1142.43 212.88 L1142.74 212.25 L1143.05 211.62 L1143.36 211 L1143.67 210.37 L1143.99 209.74 L1144.3 209.12 L1144.62 208.49 L1144.93 207.86 L1145.25 207.24 L1145.56 206.61 L1145.88 205.98 L1146.2 205.36 L1146.51 204.73 L1146.83 204.1 L1147.15 203.48 L1147.47 202.85 L1147.79 202.22 L1148.11 201.6 L1148.44 200.97 L1148.76 200.35 L1149.08 199.72 L1149.41 199.09 L1149.74 198.47 L1150.06 197.84 L1150.39 197.22 L1150.72 196.59 L1151.05 195.97 L1151.38 195.34 L1151.71 194.71 L1152.05 194.09 L1152.38 193.46 L1152.71 192.84 L1153.05 192.21 L1153.39 191.59 L1153.73 190.97 L1154.07 190.34 L1154.41 189.72 L1154.76 189.1 L1155.11 188.49 L1155.46 187.87 L1155.82 187.26 L1156.18 186.65 L1156.54 186.05 L1156.91 185.45 L1157.29 184.86 L1157.67 184.27 L1158.06 183.68 L1158.45 183.11 L1158.85 182.54 L1159.26 181.97 L1159.68 181.42 L1160.1 180.87 L1160.53 180.33 L1160.97 179.79 L1161.42 179.27 L1161.88 178.76 L1162.35 178.26 L1162.83 177.76 L1163.32 177.28 L1163.82 176.81 L1164.33 176.35 L1164.85 175.9 L1165.39 175.47 L1165.94 175.04 L1166.5 174.63 L1167.07 174.24 L1167.66 173.86 L1168.26 173.49 L1168.87 173.14 L1169.5 172.8 L1170.15 172.48 L1170.81 172.17 L1171.48 171.89 L1172.16 171.62 L1172.86 171.37 L1173.56 171.14 L1174.27 170.93 L1174.98 170.74 L1175.7 170.58 L1176.42 170.44 L1177.15 170.32 L1177.87 170.23 L1178.58 170.17 L1179.3 170.13 L1180 170.13 L1180.7 170.15 L1181.39 170.2 L1182.07 170.29 L1182.74 170.4 L1183.4 170.55 L1184.05 170.72 L1184.69 170.92 L1185.32 171.15 L1185.94 171.41 L1186.55 171.68 L1187.16 171.99 L1187.75 172.31 L1188.34 172.65 L1188.92 173.02 L1189.49 173.4 L1190.05 173.81 L1190.61 174.22 L1191.15 174.66 L1191.7 175.11 L1192.23 175.57 L1192.76 176.05 L1193.29 176.54 L1193.81 177.04 L1194.32 177.55 L1194.83 178.07 L1195.33 178.59 L1195.83 179.13 L1196.32 179.66 L1196.81 180.21 L1197.3 180.75 L1197.78 181.3 L1198.27 181.85 L1198.74 182.4 L1199.22 182.95 L1199.69 183.5 L1200.16 184.04 L1200.63 184.58 L1201.1 185.12 L1201.56 185.65 L1202.03 186.18 L1202.49 186.71 L1202.95 187.23 L1203.41 187.75 L1203.87 188.26 L1204.34 188.78 L1204.8 189.29 L1205.26 189.8 L1205.72 190.3 L1206.18 190.81 L1206.65 191.31 L1207.11 191.81 L1207.58 192.31 L1208.05 192.81 L1208.52 193.31 L1208.99 193.8 L1209.46 194.3 L1209.94 194.79 L1210.42 195.28 L1210.9 195.78 L1211.38 196.27 L1211.87 196.76 L1212.36 197.26 L1212.85 197.75 L1213.34 198.24 L1213.83 198.74 L1214.33 199.23 L1214.82 199.72 L1215.32 200.22 L1215.82 200.71 L1216.32 201.21 L1216.82 201.7 L1217.32 202.2 L1217.82 202.7 L1218.33 203.19 L1218.83 203.69 L1219.33 204.19 L1219.83 204.69 L1220.33 205.19 L1220.83 205.69 L1221.33 206.2 L1221.83 206.7 L1222.33 207.21 L1222.82 207.72 L1223.31 208.22 L1223.81 208.73 L1224.3 209.25 L1224.79 209.76 L1225.27 210.27 L1225.76 210.79 L1226.24 211.31 L1226.72 211.83 L1227.19 212.35 L1227.66 212.88 L1228.13 213.41 L1228.6 213.94 L1229.06 214.47 L1229.52 215 L1229.97 215.54 L1230.42 216.08 L1230.87 216.62 L1231.31 217.16 L1231.75 217.71 L1232.18 218.26 L1232.61 218.81 L1233.03 219.36 L1233.45 219.92 L1233.86 220.48 L1234.27 221.05 L1234.67 221.62 L1235.06 222.19 L1235.45 222.76 L1235.83 223.34 L1236.21 223.92 L1236.58 224.5 L1236.94 225.09 L1237.3 225.68 L1237.65 226.28 L1237.99 226.88 L1238.33 227.48 L1238.66 228.09 L1238.98 228.69 L1239.3 229.3 L1239.61 229.92 L1239.92 230.54 L1240.22 231.16 L1240.52 231.78 L1240.81 232.41 L1241.1 233.04 L1241.38 233.67 L1241.66 234.3 L1241.93 234.94 L1242.2 235.58 L1242.47 236.22 L1242.73 236.86 L1242.99 237.51 L1243.24 238.16 L1243.49 238.81 L1243.73 239.46 L1243.97 240.11 L1244.21 240.77 L1244.45 241.43 L1244.68 242.09 L1244.91 242.75 L1245.14 243.41 L1245.36 244.08 L1245.58 244.75 L1245.8 245.41 L1246.02 246.08 L1246.23 246.75 L1246.45 247.43 L1246.66 248.1 L1246.87 248.77 L1247.08 249.45 L1247.28 250.13 L1247.49 250.8 L1247.69 251.48 L1247.89 252.16 L1248.1 252.84 L1248.3 253.52 L1248.49 254.21 L1248.69 254.89 L1248.89 255.57 L1249.08 256.26 L1249.28 256.94 L1249.47 257.63 L1249.66 258.31 L1249.85 259 L1250.04 259.68 L1250.23 260.37 L1250.42 261.06 L1250.61 261.75 L1250.79 262.43 L1250.98 263.12 L1251.16 263.81 L1251.35 264.5 L1251.53 265.19 L1251.72 265.87 L1251.9 266.56 L1252.08 267.25 L1252.26 267.94 L1252.44 268.63 L1252.63 269.31 L1252.81 270 L1252.99 270.69 L1253.17 271.37 L1253.35 272.06 L1253.53 272.75 L1253.7 273.43 L1253.88 274.12 L1254.06 274.8 L1254.24 275.48 L1254.42 276.17 L1254.6 276.85 L1254.78 277.53 L1254.96 278.21 L1255.14 278.89 L1255.32 279.57 L1255.5 280.25 L1255.68 280.92 L1255.86 281.6 L1256.04 282.28 L1256.22 282.95 L1256.4 283.62 L1256.59 284.29 L1256.77 284.96 L1256.95 285.63 L1257.14 286.3 L1257.32 286.97 L1257.51 287.63 L1257.69 288.29 L1257.88 288.96 L1258.07 289.62 L1258.25 290.27 L1258.44 290.93 L1258.63 291.59 L1258.82 292.24 L1259.02 292.89 L1259.21 293.54 L1259.4 294.19 L1259.6 294.84 L1259.79 295.48 L1259.99 296.13 L1260.19 296.77 L1260.38 297.42 L1260.58 298.06 L1260.78 298.71 L1260.98 299.35 L1261.18 299.99 L1261.38 300.64 L1261.58 301.28 L1261.78 301.93 L1261.99 302.57 L1262.19 303.22 L1262.39 303.87 L1262.59 304.52 L1262.8 305.17 L1263 305.82 L1263.21 306.47 L1263.41 307.13 L1263.61 307.79 L1263.82 308.45 L1264.02 309.11 L1264.23 309.78 L1264.43 310.44 L1264.64 311.12 L1264.84 311.79 L1265.05 312.47 L1265.25 313.15 L1265.46 313.83 L1265.66 314.52 L1265.86 315.22 L1266.07 315.91 L1266.27 316.61 L1266.47 317.32 L1266.68 318.03 L1266.88 318.75 L1267.08 319.47 L1267.28 320.19 L1267.48 320.92 L1267.68 321.66 L1267.88 322.4 L1268.08 323.15 L1268.28 323.9 L1268.48 324.66 L1268.68 325.43 L1268.87 326.2 L1269.07 326.98 L1269.26 327.77 L1269.46 328.57 L1269.65 329.37 L1269.84 330.17 L1270.04 330.97 L1270.24 331.76 L1270.44 332.53 L1270.66 333.28 L1270.88 334 L1271.11 334.68 L1271.36 335.31 L1271.62 335.9 L1271.9 336.42 L1272.2 336.88 L1272.52 337.27 L1272.86 337.58 L1273.22 337.81 L1273.61 337.94 L1274.03 337.97 L1274.48 337.9 L1274.95 337.73 L1275.44 337.47 L1275.93 337.14 L1276.42 336.73 L1276.9 336.27 L1277.36 335.77 L1277.79 335.23 L1278.2 334.65 L1278.57 334.06 L1278.92 333.44 L1279.24 332.8 L1279.54 332.15 L1279.82 331.48 L1280.09 330.8 L1280.34 330.11 L1280.58 329.42 L1280.82 328.72 L1281.05 328.02 L1281.28 327.32 L1281.5 326.62 L1281.72 325.93 L1281.94 325.23 L1282.15 324.54 L1282.36 323.85 L1282.57 323.16 L1282.78 322.47 L1282.98 321.78 L1283.19 321.09 L1283.39 320.4 L1283.58 319.72 L1283.78 319.03 L1283.97 318.35 L1284.16 317.66 L1284.35 316.98 L1284.54 316.3 L1284.72 315.62 L1284.91 314.94 L1285.09 314.27 L1285.27 313.59 L1285.45 312.91 L1285.63 312.24 L1285.81 311.56 L1285.99 310.89 L1286.16 310.22 L1286.34 309.55 L1286.51 308.88 L1286.69 308.21 L1286.86 307.54 L1287.03 306.87 L1287.2 306.21 L1287.37 305.54 L1287.55 304.87 L1287.72 304.21 L1287.89 303.55 L1288.06 302.88 L1288.23 302.22 L1288.4 301.56 L1288.58 300.9 L1288.75 300.24 L1288.92 299.58 L1289.1 298.93 L1289.27 298.27 L1289.45 297.61 L1289.62 296.96 L1289.8 296.3 L1289.98 295.65 L1290.16 295 L1290.33 294.34 L1290.51 293.68 L1290.69 293.02 L1290.86 292.36 L1291.03 291.68 L1291.2 291 L1291.35 290.31 L1291.51 289.61 L1291.65 288.9 L1291.79 288.18 L1291.92 287.44 L1292.04 286.69 L1292.15 285.92 L1292.24 285.13 L1292.33 284.33 L1292.4 283.5 L1292.47 282.67 L1292.53 281.82 L1292.59 280.97 L1292.64 280.11 L1292.7 279.26 L1292.77 278.41 L1292.84 277.57 L1292.92 276.74 L1293.01 275.93 L1293.12 275.13 L1293.25 274.36 L1293.39 273.62 L1293.57 272.9 L1293.76 272.22 L1293.98 271.57 L1294.24 270.96 L1294.53 270.4 L1294.85 269.89 L1295.21 269.43 L1295.62 269.02 L1296.06 268.67 L1296.56 268.38 L1297.1 268.16 L1297.68 268.01 L1298.27 267.92 L1298.85 267.89 L1299.41 267.94 L1299.93 268.05 L1300.42 268.22 L1300.88 268.45 L1301.3 268.73 L1301.69 269.07 L1302.05 269.46 L1302.39 269.9 L1302.7 270.38 L1302.98 270.9 L1303.24 271.47 L1303.48 272.07 L1303.7 272.7 L1303.89 273.37 L1304.07 274.06 L1304.24 274.78 L1304.39 275.52 L1304.52 276.28 L1304.65 277.06 L1304.76 277.85 L1304.86 278.65 L1304.96 279.46 L1305.05 280.28 L1305.14 281.1 L1305.22 281.92 L1305.3 282.73 L1305.38 283.54 L1305.46 284.34 L1305.54 285.13 L1305.63 285.92 L1305.71 286.69 L1305.8 287.45 L1305.89 288.21 L1305.98 288.95 L1306.07 289.69 L1306.16 290.43 L1306.26 291.15 L1306.35 291.87 L1306.44 292.58 L1306.54 293.29 L1306.63 293.99 L1306.73 294.69 L1306.83 295.38 L1306.92 296.07 L1307.02 296.76 L1307.12 297.44 L1307.21 298.12 L1307.31 298.8 L1307.41 299.47 L1307.5 300.14 L1307.6 300.81 L1307.69 301.48 L1307.78 302.15 L1307.88 302.82 L1307.97 303.5 L1308.06 304.17 L1308.15 304.84 L1308.24 305.51 L1308.33 306.18 L1308.41 306.86 L1308.5 307.53 L1308.58 308.21 L1308.67 308.89 L1308.75 309.56 L1308.83 310.24 L1308.91 310.92 L1308.99 311.6 L1309.07 312.28 L1309.15 312.96 L1309.23 313.65 L1309.3 314.33 L1309.38 315.01 L1309.45 315.7 L1309.52 316.38 L1309.59 317.07 L1309.67 317.75 L1309.74 318.44 L1309.8 319.13 L1309.87 319.81 L1309.94 320.5 L1310.01 321.19 L1310.07 321.88 L1310.14 322.57 L1310.2 323.26 L1310.26 323.95 L1310.33 324.65 L1310.39 325.34 L1310.45 326.03 L1310.51 326.73 L1310.56 327.42 L1310.62 328.11 L1310.68 328.81 L1310.74 329.5 L1310.79 330.2 L1310.85 330.9 L1310.9 331.59 L1310.95 332.29 L1311 332.99 L1311.06 333.69 L1311.11 334.39 L1311.16 335.09 L1311.21 335.78 L1311.25 336.48 L1311.3 337.18 L1311.35 337.89 L1311.39 338.59 L1311.44 339.29 L1311.48 339.99 L1311.53 340.69 L1311.57 341.39 L1311.62 342.1 L1311.66 342.8 L1311.7 343.5 L1311.74 344.2 L1311.78 344.91 L1311.82 345.61 L1311.86 346.31 L1311.9 347.02 L1311.93 347.72 L1311.97 348.43 L1312.01 349.13 L1312.04 349.84 L1312.08 350.54 L1312.11 351.25 L1312.14 351.95 L1312.18 352.66 L1312.21 353.36 L1312.24 354.07 L1312.27 354.78 L1312.3 355.48 L1312.34 356.19 L1312.37 356.89 L1312.39 357.6 L1312.42 358.31 L1312.45 359.01 L1312.48 359.72 L1312.51 360.42 L1312.53 361.13 L1312.56 361.84 L1312.59 362.54 L1312.61 363.25 L1312.64 363.96 L1312.66 364.66 L1312.68 365.37 L1312.71 366.07 L1312.73 366.78 L1312.75 367.49 L1312.78 368.19 L1312.8 368.9 L1312.82 369.6 L1312.84 370.31 L1312.86 371.01 L1312.88 371.72 L1312.9 372.42 L1312.92 373.13 L1312.94 373.83 L1312.96 374.54 L1312.98 375.24 L1312.99 375.95 L1313.01 376.65 L1313.03 377.35 L1313.05 378.06 L1313.06 378.76 L1313.08 379.46 L1313.09 380.16 L1313.11 380.87 L1313.13 381.57 L1313.14 382.27 L1313.16 382.97 L1313.17 383.67 L1313.18 384.37 L1313.2 385.07 L1313.21 385.77 L1313.23 386.47 L1313.24 387.17 L1313.25 387.87 L1313.26 388.57 L1313.28 389.27 L1313.29 389.97 L1313.3 390.67 L1313.31 391.37 L1313.32 392.07 L1313.34 392.77 L1313.35 393.46 L1313.36 394.16 L1313.37 394.86 L1313.38 395.56 L1313.39 396.26 L1313.4 396.95 L1313.41 397.65 L1313.42 398.35 L1313.43 399.04 L1313.44 399.74 L1313.45 400.44 L1313.46 401.13 L1313.47 401.83 L1313.48 402.53 L1313.48 403.22 L1313.49 403.92 L1313.5 404.62 L1313.51 405.31 L1313.52 406.01 L1313.53 406.7 L1313.54 407.4 L1313.54 408.1 L1313.55 408.79 L1313.56 409.49 L1313.57 410.18 L1313.57 410.88 L1313.58 411.58 L1313.59 412.27 L1313.6 412.97 L1313.6 413.66 L1313.61 414.36 L1313.62 415.06 L1313.63 415.75 L1313.63 416.45 L1313.64 417.14 L1313.65 417.84 L1313.66 418.54 L1313.66 419.23 L1313.67 419.93 L1313.68 420.62 L1313.68 421.32 L1313.69 422.02 L1313.7 422.71 L1313.71 423.41 L1313.71 424.11 L1313.72 424.8 L1313.73 425.5 L1313.73 426.2 L1313.74 426.89 L1313.75 427.59 L1313.76 428.29 L1313.76 428.99 L1313.77 429.69 L1313.78 430.38 L1313.79 431.08 L1313.79 431.78 L1313.8 432.48 L1313.81 433.18 L1313.82 433.88 L1313.83 434.57 L1313.84 435.27 L1313.84 435.97 L1313.85 436.67 L1313.86 437.37 L1313.87 438.07 L1313.88 438.77 L1313.89 439.47 L1313.9 440.17 L1313.91 440.87 L1313.92 441.58 L1313.92 442.28 L1313.93 442.98 L1313.94 443.68 L1313.95 444.38 L1313.96 445.09 L1313.98 445.79 L1313.99 446.49 L1314 447.2 L1314.01 447.9 L1314.02 448.6 L1314.03 449.31 L1314.04 450.01 L1314.05 450.72 L1314.07 451.42 L1314.08 452.13 L1314.09 452.84 L1314.1 453.54 L1314.12 454.25 L1314.13 454.96 L1314.14 455.67 L1314.16 456.37 L1314.17 457.08 L1314.19 457.79 L1314.2 458.5 L1314.21 457.8 L1314.23 457.09 L1314.24 456.39 L1314.25 455.68 L1314.27 454.98 L1314.28 454.28 L1314.3 453.57 L1314.31 452.87 L1314.32 452.16 L1314.34 451.46 L1314.35 450.76 L1314.37 450.05 L1314.38 449.35 L1314.39 448.65 L1314.41 447.94 L1314.42 447.24 L1314.44 446.53 L1314.45 445.83 L1314.46 445.13 L1314.48 444.42 L1314.49 443.72 L1314.51 443.01 L1314.52 442.31 L1314.54 441.61 L1314.55 440.9 L1314.56 440.2 L1314.58 439.5 L1314.59 438.79 L1314.61 438.09 L1314.62 437.38 L1314.64 436.68 L1314.65 435.98 L1314.66 435.27 L1314.68 434.57 L1314.69 433.86 L1314.71 433.16 L1314.72 432.46 L1314.74 431.75 L1314.75 431.05 L1314.77 430.34 L1314.78 429.64 L1314.8 428.94 L1314.81 428.23 L1314.83 427.53 L1314.84 426.83 L1314.86 426.12 L1314.87 425.42 L1314.89 424.71 L1314.9 424.01 L1314.91 423.31 L1314.93 422.6 L1314.94 421.9 L1314.96 421.19 L1314.97 420.49 L1314.99 419.79 L1315 419.08 L1315.02 418.38 L1315.03 417.68 L1315.05 416.97 L1315.06 416.27 L1315.08 415.56 L1315.09 414.86 L1315.11 414.16 L1315.13 413.45 L1315.14 412.75 L1315.16 412.04 L1315.17 411.34 L1315.19 410.64 L1315.2 409.93 L1315.22 409.23 L1315.23 408.53 L1315.25 407.82 L1315.26 407.12 L1315.28 406.41 L1315.29 405.71 L1315.31 405.01 L1315.32 404.3 L1315.34 403.6 L1315.35 402.89 L1315.37 402.19 L1315.38 401.49 L1315.4 400.78 L1315.42 400.08 L1315.43 399.37 L1315.45 398.67 L1315.46 397.97 L1315.48 397.26 L1315.49 396.56 L1315.51 395.86 L1315.52 395.15 L1315.54 394.45 L1315.55 393.74 L1315.57 393.04 L1315.59 392.34 L1315.6 391.63 L1315.62 390.93 L1315.63 390.22 L1315.65 389.52 L1315.66 388.82 L1315.68 388.11 L1315.69 387.41 L1315.71 386.71 L1315.73 386 L1315.74 385.3 L1315.76 384.59 L1315.77 383.89 L1315.79 383.19 L1315.8 382.48 L1315.82 381.78 L1315.83 381.07 L1315.85 380.37 L1315.87 379.67 L1315.88 378.96 L1315.9 378.26 L1315.91 377.56 L1315.93 376.85 L1315.94 376.15 L1315.96 375.44 L1315.98 374.74 L1315.99 374.04 L1316.01 373.33 L1316.02 372.63 L1316.04 371.93 L1316.05 371.22 L1316.07 370.52 L1316.09 369.81 L1316.1 369.11 L1316.12 368.41 L1316.13 367.7 L1316.15 367 L1316.16 366.29 L1316.18 365.59 L1316.2 364.89 L1316.21 364.18 L1316.23 363.48 L1316.24 362.78 L1316.26 362.07 L1316.27 361.37 L1316.29 360.66 L1316.31 359.96 L1316.32 359.26 L1316.34 358.55 L1316.35 357.85 L1316.37 357.14 L1316.38 356.44 L1316.4 355.74 L1316.42 355.03 L1316.43 354.33 L1316.45 353.63 L1316.46 352.92 L1316.48 352.22 L1316.49 351.51 L1316.51 350.81 L1316.53 350.11 L1316.54 349.4 L1316.56 348.7 L1316.57 347.99 L1316.59 347.29 L1316.6 346.59 L1316.62 345.88 L1316.64 345.18 L1316.65 344.48 L1316.67 343.77 L1316.68 343.07 L1316.7 342.36 L1316.71 341.66 L1316.73 340.96 L1316.75 340.25 L1316.76 339.55 L1316.78 338.84 L1316.79 338.14 L1316.81 337.44 L1316.82 336.73 L1316.84 336.03 L1316.85 335.33 L1316.87 334.62 L1316.89 333.92 L1316.9 333.21 L1316.92 332.51 L1316.93 331.81 L1316.95 331.1 L1316.96 330.4 L1316.98 329.69 L1316.99 328.99 L1317.01 328.29 L1317.03 327.58 L1317.04 326.88 L1317.06 326.18 L1317.07 325.47 L1317.09 324.77 L1317.1 324.06 L1317.12 323.36 L1317.13 322.66 L1317.15 321.95 L1317.16 321.25 L1317.18 320.54 L1317.2 319.84 L1317.21 319.14 L1317.23 318.43 L1317.24 317.73 L1317.26 317.03 L1317.27 316.32 L1317.29 315.62 L1317.3 314.91 L1317.32 314.21 L1317.33 313.51 L1317.35 312.8 L1317.36 312.1 L1317.38 311.39 L1317.39 310.69 L1317.41 309.99 L1317.42 309.28 L1317.44 308.58 L1317.45 307.88 L1317.47 307.17 L1317.48 306.47 L1317.5 305.76 L1317.51 305.06 L1317.53 304.36 L1317.54 303.65 L1317.56 302.95 L1317.57 302.24 L1317.59 301.54 L1317.6 300.84 L1317.62 300.13 L1317.63 299.43 L1317.65 298.73 L1317.66 298.02 L1317.68 297.32 L1317.69 296.61 L1317.71 295.91 L1317.72 295.21 L1317.74 294.5 L1317.75 293.8 L1317.77 293.09 L1317.78 292.39 L1317.8 291.69 L1317.81 290.98 L1317.82 290.28 L1317.84 289.57 L1317.85 288.87 L1317.87 288.17 L1317.88 287.46 L1317.9 286.76 L1317.91 286.06 L1317.93 285.35 L1317.94 284.65 L1317.96 283.94 L1317.97 283.24 L1317.98 282.54 L1318 281.83 L1318.01 281.13 L1318.03 280.42 L1318.04 279.72 L1318.06 279.02 L1318.07 278.31 L1318.08 277.61 L1318.1 276.91 L1318.11 276.2 L1318.13 275.5 L1318.14 274.79 L1318.15 274.09 L1318.17 273.39 L1318.18 272.68 L1318.2 271.98 L1318.21 271.27 L1318.22 270.57 L1318.24 269.87 L1318.25 269.16 L1318.27 268.46 L1318.28 267.75 L1318.29 267.05 L1318.31 266.35 L1318.32 265.64 L1318.33 264.94 L1318.35 264.24 L1318.36 263.53 L1318.37 262.83 L1318.39 262.12 L1318.4 261.42 L1318.41 260.72 L1318.43 260.01 L1318.44 259.31 L1318.46 258.6 L1318.47 257.9 L1318.48 257.2 L1318.5 256.49 L1318.51 255.79 L1318.52 255.08 L1318.53 254.38 L1318.55 253.68 L1318.56 252.97 L1318.57 252.27 L1318.59 251.56 L1318.6 250.86 L1318.61 250.16 L1318.63 249.45 L1318.64 248.75 L1318.65 248.05 L1318.66 247.34 L1318.68 246.64 L1318.69 245.93 L1318.7 245.23 L1318.72 244.53 L1318.73 243.82 L1318.74 243.12 L1318.75 242.41 L1318.77 241.71 L1318.78 241.01 L1318.79 240.3 L1318.8 239.6 L1318.82 238.89 L1318.83 238.19 L1318.84 237.49 L1318.85 236.78 L1318.86 236.08 L1318.88 235.37 L1318.89 234.67 L1318.9 233.97 L1318.91 233.26 L1318.92 232.56 L1318.94 231.86 L1318.95 231.15 L1318.96 230.45 L1318.97 229.74 L1318.98 229.04 L1319 228.34 L1319.01 227.63 L1319.02 226.93 L1319.03 226.22 L1319.04 225.52 L1319.05 224.82 L1319.07 224.11 L1319.08 223.41 L1319.09 222.7 L1319.1 222" stroke="#ff0000" stroke-width="6.0" fill="none" stroke-linejoin="round" stroke-linecap="round"/>
<path d="M784.82 150.03 L784.82 150.38 L784.82 151.43 L784.83 152.49 L784.83 153.54 L784.83 154.59 L784.84 155.65 L784.84 156.7 L784.84 157.76 L784.85 158.81 L784.85 159.86 L784.85 160.92 L784.86 161.97 L784.86 163.03 L784.86 164.08 L784.87 165.13 L784.87 165.48 M784.96 191.13 L784.96 191.48 L784.96 192.54 L784.97 193.59 L784.97 194.64 L784.98 195.7 L784.98 196.75 L784.98 197.81 L784.99 198.86 L784.99 199.91 L785 200.97 L785 202.02 L785.01 203.08 L785.01 204.13 L785.02 205.18 L785.02 206.24 L785.02 206.59 M785.16 231.88 L785.16 232.24 L785.17 233.29 L785.18 234.34 L785.18 235.4 L785.19 236.45 L785.2 237.51 L785.2 238.56 L785.21 239.61 L785.22 240.67 L785.22 241.72 L785.23 242.78 L785.24 243.83 L785.25 244.88 L785.25 245.94 L785.26 246.99 L785.26 247.34 M785.48 272.99 L785.49 273.34 L785.5 274.39 L785.51 275.45 L785.52 276.5 L785.53 277.55 L785.54 278.61 L785.55 279.66 L785.56 280.72 L785.57 281.77 L785.58 282.82 L785.6 283.88 L785.61 284.93 L785.62 285.99 L785.63 287.04 L785.64 288.09 L785.65 288.44 M785.98 314.09 L785.98 314.44 L786 315.49 L786.02 316.55 L786.03 317.6 L786.05 318.65 L786.06 319.71 L786.08 320.76 L786.1 321.81 L786.11 322.87 L786.13 323.92 L786.15 324.98 L786.16 326.03 L786.18 327.08 L786.2 328.14 L786.22 329.19 L786.22 329.54 M786.69 354.83 L786.7 355.18 L786.72 356.23 L786.75 357.29 L786.77 358.34 L786.79 359.39 L786.81 360.45 L786.84 361.5 L786.86 362.56 L786.88 363.61 L786.91 364.66 L786.93 365.72 L786.95 366.77 L786.98 367.82 L787 368.88 L787.03 369.93 L787.03 370.28 M787.69 395.92 L787.7 396.27 L787.73 397.32 L787.76 398.37 L787.79 399.43 L787.82 400.48 L787.85 401.53 L787.88 402.59 L787.91 403.64 L787.95 404.69 L787.98 405.75 L788.01 406.8 L788.04 407.85 L788.07 408.91 L788.11 409.96 L788.14 411.01 L788.15 411.36 M789.01 436.64 L789.02 436.99 L789.06 438.05 L789.1 439.1 L789.14 440.15 L789.18 441.2 L789.22 442.26 L789.26 443.31 L789.3 444.36 L789.34 445.42 L789.38 446.47 L789.42 447.52 L789.46 448.58 L789.5 449.63 L789.54 450.68 L789.59 451.74 L789.6 452.09 M791.23 437.2 L791.26 436.86 L791.35 435.82 L791.44 434.78 L791.54 433.74 L791.63 432.7 L791.72 431.66 L791.82 430.62 L791.92 429.59 L792.02 428.55 L792.12 427.52 L792.22 426.48 L792.32 425.45 L792.42 424.41 L792.53 423.38 L792.56 423.03 M795.2 400.09 L795.24 399.74 L795.38 398.68 L795.51 397.61 L795.65 396.55 L795.79 395.48 L795.92 394.4 L796.06 393.33 L796.21 392.25 L796.35 391.17 L796.49 390.09 L796.64 389 L796.78 387.91 L796.93 386.82 M801.4 372.16 L801.52 372.06 L801.85 371.76 L802.2 371.52 L802.56 371.33 L802.9 371.2 L803.2 371.14 L803.51 371.12 L803.81 371.12 L804.13 371.2 L804.33 371.24 M810.26 381.9 L810.33 382.27 L810.53 383.39 L810.72 384.5 L810.92 385.6 L811.11 386.58 L811.26 387.3 L811.43 388.01 L811.61 388.71 L811.8 389.4 L812 390.09 L812.21 390.77 L812.43 391.44 L812.51 391.67 M817.45 405.34 L817.51 405.57 L817.69 406.24 L817.86 406.92 L818.02 407.6 L818.18 408.29 L818.33 408.97 L818.55 410.01 L818.77 411.05 L818.98 412.09 L819.19 413.13 L819.4 414.17 L819.61 415.22 L819.75 415.91 M824 431.81 L824.07 432.03 L824.29 432.7 L824.51 433.37 L824.73 434.04 L824.95 434.71 L825.17 435.37 L825.39 436.04 L825.61 436.71 L825.84 437.37 L826.06 438.04 L826.29 438.71 L826.51 439.37 L826.59 439.59 M831.32 454.33 L831.39 454.55 L831.58 455.23 L831.77 455.91 L831.95 456.59 L832.13 457.27 L832.31 457.96 L832.49 458.64 L832.62 458.73 L832.68 457.64 L832.8 456.57 L832.94 455.51 L833.13 454.46 L833.35 453.42 L833.4 453.19 M838.27 440.24 L838.36 440.02 L838.65 439.38 L838.93 438.73 L839.2 438.08 L839.48 437.43 L839.75 436.78 L840.01 436.13 L840.27 435.47 L840.52 434.82 L840.77 434.16 L841.01 433.5 M846.21 421.22 L846.3 421.07 L846.55 420.6 L846.8 420.13 L847.06 419.66 L847.31 419.2 L847.56 418.73 L847.81 418.27 L848.06 417.8 L848.31 417.34 L848.55 416.87 L848.79 416.41 L849.02 415.94 M854.45 403.94 L854.53 403.79 L854.77 403.32 L855.02 402.85 L855.27 402.38 L855.53 401.91 L855.8 401.44 L856.07 400.97 L856.36 400.5 L856.65 400.03 L856.94 399.56 L857.25 399.09 M863.54 392.17 L863.66 392.09 L864.01 391.85 L864.36 391.63 L864.71 391.42 L865.07 391.23 L865.42 391.06 L865.78 390.89 L866.14 390.75 L866.39 390.66 M873.54 392.02 L873.65 392.1 L873.98 392.35 L874.3 392.62 L874.62 392.89 L874.93 393.18 L875.23 393.47 L875.52 393.78 L875.81 394.1 L876.09 394.43 L876.36 394.76 L876.63 395.1 M882.46 405.3 L882.54 405.46 L882.78 405.94 L883.02 406.42 L883.26 406.89 L883.5 407.37 L883.73 407.84 L883.96 408.32 L884.2 408.79 L884.42 409.27 L884.65 409.74 L884.88 410.22 L885.15 410.8 L885.25 411.01 M890.44 423.43 L890.52 423.65 L890.76 424.31 L891 424.97 L891.23 425.63 L891.47 426.3 L891.7 426.97 L891.93 427.63 L892.16 428.3 L892.38 428.98 L892.61 429.65 L892.83 430.32 L893.05 431 L893.12 431.22 M897.62 447.17 L897.68 447.39 L897.85 448.08 L898.02 448.77 L898.18 449.45 L898.35 450.14 L898.51 450.82 L898.67 451.5 L898.83 452.19 L898.99 452.87 L899.14 453.55 L899.35 454.46 L899.58 455.48 L899.8 456.5 M905.66 448.36 L905.74 448.2 L905.98 447.74 L906.21 447.27 L906.51 446.65 L906.8 446.01 L907.08 445.38 L907.36 444.74 L907.62 444.09 L907.88 443.44 L908.13 442.79 L908.38 442.13 L908.45 441.91 M913.12 426.63 L913.19 426.4 L913.4 425.73 L913.62 425.06 L913.84 424.4 L914.07 423.73 L914.3 423.07 L914.53 422.41 L914.78 421.75 L915.02 421.1 L915.28 420.44 L915.53 419.79 L915.71 419.36 M921.22 408.94 L921.32 408.79 L921.63 408.33 L921.95 407.87 L922.28 407.42 L922.55 407.05 L922.82 406.69 L923.1 406.33 L923.38 405.98 L923.66 405.63 L923.95 405.28 L924.14 405.05 M930.83 401 L930.95 400.99 L931.32 400.98 L931.69 400.99 L932.05 401.01 L932.42 401.06 L932.79 401.11 L933.15 401.18 L933.52 401.28 L933.88 401.38 M940.6 407.04 L940.69 407.19 L940.98 407.66 L941.26 408.14 L941.54 408.63 L941.8 409.13 L942.06 409.63 L942.32 410.14 L942.56 410.65 L942.81 411.17 L943.04 411.69 L943.28 412.21 L943.51 412.74 M948.6 426 L948.67 426.22 L948.89 426.87 L949.12 427.53 L949.33 428.18 L949.55 428.83 L949.76 429.48 L949.97 430.14 L950.18 430.79 L950.39 431.43 L950.6 432.08 L950.8 432.73 L951 433.38 L951.13 433.82 M955.7 449.74 L955.76 449.97 L955.95 450.66 L956.15 451.35 L956.34 452.05 L956.53 452.76 L956.73 453.46 L956.93 454.17 L957.13 454.89 L957.33 455.61 L957.53 456.33 L957.73 457.06 L957.95 456.86 L958.09 456.42 M962.73 441.07 L962.8 440.85 L962.98 440.17 L963.17 439.5 L963.36 438.82 L963.54 438.14 L963.73 437.47 L963.91 436.79 L964.09 436.11 L964.27 435.43 L964.45 434.76 L964.63 434.08 L964.81 433.4 L964.99 432.72 L965.17 432.04 M969.41 415.19 L969.46 414.96 L969.63 414.28 L969.8 413.59 L969.97 412.91 L970.14 412.22 L970.31 411.54 L970.47 410.85 L970.64 410.17 L970.81 409.49 L970.98 408.8 L971.15 408.12 L971.32 407.43 L971.48 406.75 L971.65 406.06 L971.82 405.38 M976.07 388.83 L976.13 388.6 L976.31 387.93 L976.5 387.25 L976.68 386.58 L976.87 385.9 L977.05 385.23 L977.24 384.56 L977.43 383.89 L977.62 383.21 L977.81 382.54 L978 381.87 L978.19 381.2 L978.39 380.53 L978.51 380.09 M983.18 365.35 L983.25 365.13 L983.48 364.48 L983.71 363.83 L983.94 363.18 L984.17 362.54 L984.4 361.89 L984.64 361.25 L984.87 360.6 L985.11 359.96 L985.35 359.31 L985.6 358.67 L985.84 358.03 M990.98 345.59 L991.08 345.37 L991.37 344.72 L991.66 344.07 L991.93 343.47 L992.15 342.98 L992.38 342.49 L992.61 342 L992.83 341.51 L993.06 341.02 L993.29 340.52 L993.53 340.03 L993.76 339.54 M999.25 328.96 L999.35 328.81 L999.64 328.34 L999.95 327.89 L1000.26 327.44 L1000.57 327 L1000.89 326.57 L1001.22 326.15 L1001.55 325.74 L1001.85 325.39 L1002.12 325.07 M1008.89 320.61 L1008.99 320.58 L1009.32 320.49 L1009.64 320.41 L1009.97 320.33 L1010.3 320.26 L1010.63 320.19 L1010.96 320.14 L1011.29 320.09 L1011.62 320.05 L1011.85 320.03 M1019.04 321.05 L1019.14 321.09 L1019.46 321.22 L1019.77 321.36 L1020.09 321.52 L1020.46 321.71 L1020.82 321.91 L1021.17 322.11 L1021.52 322.34 L1021.86 322.57 L1022.08 322.73 M1028.68 329.35 L1028.78 329.45 L1029.05 329.78 L1029.33 330.11 L1029.61 330.43 L1029.88 330.76 L1030.15 331.09 L1030.43 331.42 L1030.7 331.75 L1030.97 332.08 L1031.28 332.47 L1031.61 332.88 M1037.72 341.11 L1037.82 341.25 L1038.12 341.69 L1038.42 342.12 L1038.72 342.56 L1039.01 343 L1039.3 343.44 L1039.59 343.88 L1039.88 344.32 L1040.17 344.76 L1040.46 345.2 L1040.65 345.5 M1046.53 355.26 L1046.62 355.41 L1046.88 355.87 L1047.14 356.33 L1047.39 356.79 L1047.65 357.25 L1047.9 357.71 L1048.15 358.17 L1048.4 358.63 L1048.65 359.09 L1048.9 359.55 L1049.15 360.01 L1049.32 360.32 M1054.87 371.25 L1054.95 371.4 L1055.18 371.88 L1055.41 372.35 L1055.63 372.82 L1055.86 373.29 L1056.09 373.77 L1056.32 374.24 L1056.54 374.71 L1056.77 375.19 L1057.02 375.71 L1057.32 376.34 L1057.62 376.98 L1057.71 377.19 M1063.1 388.8 L1063.2 389.01 L1063.5 389.65 L1063.79 390.28 L1064.08 390.91 L1064.38 391.54 L1064.68 392.18 L1064.97 392.81 L1065.27 393.44 L1065.57 394.07 L1065.87 394.7 M1071.28 405.59 L1071.36 405.74 L1071.61 406.21 L1071.86 406.67 L1072.1 407.13 L1072.35 407.6 L1072.6 408.06 L1072.86 408.52 L1073.11 408.98 L1073.36 409.44 L1073.62 409.9 L1073.88 410.36 L1074.13 410.82 M1079.95 420.29 L1080.05 420.44 L1080.34 420.88 L1080.64 421.32 L1080.95 421.76 L1081.25 422.2 L1081.56 422.64 L1081.87 423.08 L1082.18 423.52 L1082.49 423.95 L1082.8 424.39 M1089.09 432 L1089.19 432.1 L1089.49 432.39 L1089.79 432.68 L1090.1 432.97 L1090.41 433.24 L1090.72 433.52 L1091.03 433.78 L1091.35 434.04 L1091.66 434.3 L1091.99 434.54 M1098.97 437.82 L1099.08 437.84 L1099.41 437.9 L1099.74 437.95 L1100.07 437.99 L1100.41 438.02 L1100.75 438.05 L1101.09 438.07 L1101.44 438.08 L1101.79 438.08 L1101.91 438.08 M1109.19 436.41 L1109.3 436.36 L1109.63 436.2 L1109.96 436.04 L1110.28 435.87 L1110.6 435.7 L1110.91 435.52 L1111.22 435.33 L1111.52 435.14 L1111.83 434.95 L1112.18 434.71 M1118.82 428.26 L1118.91 428.15 L1119.18 427.82 L1119.46 427.49 L1119.73 427.16 L1120.02 426.8 L1120.35 426.39 L1120.69 425.98 L1121.02 425.56 L1121.34 425.14 L1121.67 424.73 M1127.79 416.22 L1127.89 416.07 L1128.18 415.64 L1128.46 415.2 L1128.75 414.76 L1129.03 414.32 L1129.31 413.88 L1129.59 413.44 L1129.87 413 L1130.14 412.55 L1130.42 412.11 L1130.69 411.66 M1136.48 401.5 L1136.56 401.34 L1136.81 400.88 L1137.05 400.42 L1137.3 399.95 L1137.54 399.49 L1137.79 399.02 L1138.03 398.56 L1138.27 398.09 L1138.52 397.62 L1138.76 397.16 L1139 396.69 L1139.24 396.22 L1139.32 396.06 M1144.83 385.08 L1144.91 384.92 L1145.15 384.45 L1145.38 383.98 L1145.62 383.51 L1145.85 383.04 L1146.09 382.56 L1146.32 382.09 L1146.56 381.62 L1146.79 381.15 L1147.03 380.68 L1147.27 380.21 L1147.51 379.74 L1147.59 379.58 M1153.21 368.88 L1153.29 368.73 L1153.54 368.27 L1153.8 367.81 L1154.06 367.35 L1154.31 366.9 L1154.57 366.44 L1154.83 365.98 L1155.09 365.53 L1155.35 365.08 L1155.62 364.62 L1155.88 364.17 L1155.97 364.02 M1161.93 354.77 L1162.03 354.63 L1162.33 354.2 L1162.64 353.78 L1162.95 353.35 L1163.27 352.93 L1163.58 352.51 L1163.9 352.09 L1164.22 351.67 L1164.54 351.25 L1164.76 350.98 M1171.16 344.09 L1171.26 344 L1171.6 343.74 L1171.93 343.49 L1172.28 343.24 L1172.62 343 L1172.98 342.77 L1173.29 342.57 L1173.6 342.39 L1173.91 342.21 L1174.11 342.1 M1181.22 340.09 L1181.35 340.08 L1181.71 340.07 L1182.07 340.06 L1182.43 340.06 L1182.79 340.06 L1183.14 340.08 L1183.49 340.1 L1183.84 340.13 L1184.18 340.17 L1184.3 340.18 M1191.32 343.11 L1191.42 343.18 L1191.74 343.42 L1192.06 343.66 L1192.37 343.91 L1192.69 344.17 L1193 344.43 L1193.3 344.7 L1193.61 344.97 L1193.91 345.25 L1194.21 345.53 L1194.3 345.63 M1200.75 352.78 L1200.84 352.88 L1201.13 353.21 L1201.41 353.53 L1201.69 353.86 L1201.97 354.18 L1202.26 354.5 L1202.54 354.82 L1202.82 355.14 L1203.11 355.47 L1203.39 355.79 L1203.68 356.11 M1210.05 363.19 L1210.15 363.3 L1210.43 363.61 L1210.72 363.93 L1211 364.24 L1211.29 364.55 L1211.57 364.87 L1211.86 365.18 L1212.14 365.5 L1212.43 365.81 L1212.71 366.13 L1212.99 366.44 M1219.41 373.71 L1219.5 373.82 L1219.77 374.14 L1220.05 374.46 L1220.32 374.78 L1220.63 375.15 L1220.97 375.55 L1221.31 375.95 L1221.64 376.35 L1221.98 376.76 L1222.31 377.16 M1228.56 385.26 L1228.66 385.4 L1228.97 385.82 L1229.26 386.25 L1229.56 386.67 L1229.86 387.1 L1230.15 387.53 L1230.44 387.96 L1230.73 388.39 L1231.02 388.82 L1231.3 389.25 L1231.49 389.54 M1237.27 399.61 L1237.35 399.77 L1237.58 400.23 L1237.81 400.7 L1238.04 401.17 L1238.27 401.64 L1238.52 402.17 L1238.82 402.8 L1239.11 403.43 L1239.4 404.07 L1239.69 404.71 L1239.98 405.34 L1240.07 405.56 M1245.14 418.69 L1245.22 418.91 L1245.44 419.58 L1245.66 420.26 L1245.88 420.93 L1246.1 421.6 L1246.32 422.28 L1246.53 422.95 L1246.74 423.63 L1246.95 424.31 L1247.16 424.98 L1247.36 425.66 L1247.56 426.34 L1247.7 426.8 M1252.09 443.43 L1252.14 443.65 L1252.3 444.34 L1252.47 445.02 L1252.63 445.7 L1252.79 446.38 L1252.95 447.06 L1253.1 447.74 L1253.26 448.42 L1253.42 449.1 L1253.57 449.78 L1253.76 450.57 L1253.99 451.59 L1254.22 452.6 L1254.37 453.27 M1258.64 446.91 L1258.7 446.68 L1258.88 446.01 L1259.05 445.33 L1259.23 444.66 L1259.4 443.98 L1259.57 443.31 L1259.74 442.63 L1259.91 441.96 L1260.08 441.28 L1260.26 440.61 L1260.42 439.94 L1260.59 439.26 L1260.76 438.59 L1260.93 437.91 L1261.04 437.46 M1265.32 420.53 L1265.39 420.29 L1265.57 419.59 L1265.76 418.88 L1265.95 418.17 L1266.14 417.45 L1266.33 416.74 L1266.53 416.03 L1266.74 415.32 L1266.95 414.61 L1267.17 413.91 L1267.41 413.21 L1267.66 412.53 L1267.74 412.3 M1273.68 404.9 L1273.79 404.87 L1274.12 404.8 L1274.45 404.8 L1274.77 404.82 L1275.09 404.89 L1275.39 405.01 L1275.7 405.15 L1276.05 405.42 L1276.39 405.74 L1276.71 406.11 L1276.92 406.38 M1282.36 418.88 L1282.43 419.11 L1282.64 419.8 L1282.84 420.48 L1283.03 421.17 L1283.22 421.86 L1283.4 422.54 L1283.58 423.23 L1283.75 423.92 L1283.91 424.61 L1284.08 425.3 L1284.24 425.99 L1284.39 426.68 L1284.59 427.6 L1284.74 428.29 M1288.66 446.56 L1288.72 446.78 L1288.91 447.46 L1289.1 448.13 L1289.3 448.8 L1289.51 449.47 L1289.72 450.14 L1289.94 450.8 L1290.17 451.47 L1290.41 452.13 L1290.65 452.79 L1290.9 453.45 L1291.16 454.11 L1291.25 454.33 M1295.63 448.1 L1295.71 447.82 L1295.98 447.06 L1296.2 446.56 L1296.44 446.11 L1296.68 445.73 L1296.94 445.41 L1297.21 445.19 L1297.5 445.06 L1297.8 445.01 L1298.12 445.05 L1298.34 445.15 M1304.94 452.32 L1305.04 452.29 L1305.35 452.15 L1305.63 451.84 L1305.88 451.39 L1306.1 450.83 L1306.3 450.19 L1306.49 449.48 L1306.66 448.74 L1306.82 447.99 L1306.97 447.24 L1307.14 446.37 L1307.34 445.26 L1307.52 444.15 L1307.58 443.79 M1309.26 419.18 L1309.27 418.83 L1309.32 417.78 L1309.37 416.74 L1309.41 415.69 L1309.46 414.65 L1309.51 413.6 L1309.56 412.55 L1309.6 411.51 L1309.65 410.46 L1309.7 409.41 L1309.75 408.36 L1309.8 407.32 L1309.85 406.27 L1309.9 405.22 L1309.95 404.17 L1309.97 403.82 M1311.16 378.6 L1311.18 378.25 L1311.23 377.2 L1311.27 376.15 L1311.32 375.1 L1311.37 374.05 L1311.41 372.99 L1311.46 371.94 L1311.5 370.89 L1311.55 369.84 L1311.59 368.79 L1311.64 367.74 L1311.68 366.69 L1311.73 365.63 L1311.77 364.58 L1311.81 363.53 L1311.83 363.18 M1312.79 337.95 L1312.81 337.6 L1312.84 336.54 L1312.88 335.49 L1312.92 334.44 L1312.95 333.39 L1312.99 332.34 L1313.03 331.29 L1313.06 330.24 L1313.1 329.18 L1313.13 328.13 L1313.17 327.08 L1313.2 326.03 L1313.24 324.98 L1313.27 323.93 L1313.3 322.88 L1313.32 322.53 M1314.07 297.29 L1314.08 296.94 L1314.11 295.89 L1314.14 294.84 L1314.17 293.78 L1314.2 292.73 L1314.22 291.68 L1314.25 290.63 L1314.28 289.58 L1314.31 288.53 L1314.34 287.48 L1314.36 286.42 L1314.39 285.37 L1314.42 284.32 L1314.44 283.27 L1314.47 282.22 L1314.49 281.52 M1315.08 256.28 L1315.09 255.93 L1315.11 254.88 L1315.14 253.83 L1315.16 252.77 L1315.18 251.72 L1315.2 250.67 L1315.23 249.62 L1315.25 248.57 L1315.27 247.52 L1315.29 246.46 L1315.32 245.41 L1315.34 244.36 L1315.36 243.31 L1315.38 242.26 L1315.4 241.21 L1315.41 240.86 M1315.9 215.27 L1315.91 214.92 L1315.93 213.87 L1315.95 212.81 L1315.97 211.76 L1315.99 210.71 L1316.01 209.66 L1316.03 208.61 L1316.04 207.56 L1316.06 206.5 L1316.08 205.45 L1316.1 204.4 L1316.12 203.35 L1316.14 202.3 L1316.16 201.25 L1316.18 200.19 L1316.18 199.84 M1316.62 174.25 L1316.63 173.9 L1316.64 172.85 L1316.66 171.8 L1316.68 170.75 L1316.7 169.7 L1316.71 168.65 L1316.73 167.59 L1316.75 166.54 L1316.77 165.49 L1316.79 164.44 L1316.8 163.39 L1316.82 162.34 L1316.84 161.28 L1316.86 160.23 L1316.87 159.18 L1316.88 158.83 M1317.32 133.24 L1317.32 132.89 L1317.34 131.84 L1317.36 130.79 L1317.38 129.73 L1317.4 128.68 L1317.42 127.63 L1317.43 126.58 L1317.45 125.53 L1317.47 124.48 L1317.49 123.42 L1317.51 122.37 L1317.53 121.32 L1317.55 120.27 L1317.57 119.22 L1317.59 118.17 L1317.59 117.81 M1318.08 92.22 L1318.09 91.87 L1318.11 90.82 L1318.13 89.77 L1318.15 88.72 L1318.17 87.67 L1318.19 86.61 L1318.22 85.56 L1318.24 84.51 L1318.26 83.46 L1318.28 82.41 L1318.3 81.36 L1318.33 80.3 L1318.35 79.25 L1318.37 78.2 L1318.39 77.15 L1318.4 76.8 M1318.99 51.56 L1318.99 51.21 L1319.02 50.16 L1319.05 49.1 L1319.07 48.05 L1319.1 47" stroke="#0000ff" stroke-width="4.8" fill="none" stroke-linejoin="round" stroke-linecap="round"/>
</g>
<text transform="translate(784.6 493.1) scale(0.98 1.07)" font-size="30.4" text-anchor="middle">0</text>
<text transform="translate(895.88 493.1) scale(0.98 1.07)" font-size="30.4" text-anchor="middle">750</text>
<text transform="translate(1007.16 493.1) scale(0.98 1.07)" font-size="30.4" text-anchor="middle">1500</text>
<text transform="translate(1118.44 493.1) scale(0.98 1.07)" font-size="30.4" text-anchor="middle">2250</text>
<text transform="translate(1229.72 493.1) scale(0.98 1.07)" font-size="30.4" text-anchor="middle">3000</text>
<text transform="translate(1341 493.1) scale(0.98 1.07)" font-size="30.4" text-anchor="middle">3750</text>
<text transform="translate(776 468.9) scale(0.985 1.05)" font-size="28.8" text-anchor="end">0</text>
<text transform="translate(776 356.5) scale(0.985 1.05)" font-size="28.8" text-anchor="end">25</text>
<text transform="translate(776 244.1) scale(0.985 1.05)" font-size="28.8" text-anchor="end">50</text>
<text transform="translate(776 131.7) scale(0.985 1.05)" font-size="28.8" text-anchor="end">75</text>
<text transform="translate(776 19.3) scale(0.985 1.05)" font-size="28.8" text-anchor="end">100</text>
<text x="1062.8" y="548" font-size="38.3" text-anchor="middle">Time (s)</text>
<text transform="translate(727.9 251.8) rotate(-90)" font-size="39.0" text-anchor="middle">Voltage Error (mV)</text>
<text x="686" y="42.4" font-size="38.2">(b)</text>
<rect x="1173.7" y="44.5" width="108.9" height="61.4" fill="#fff" stroke="#000" stroke-width="2.5"/>
<path d="M1176.5 60.8H1228.2" stroke="#ff0000" stroke-width="4.8" stroke-linecap="round"/>
<path d="M1176.5 90.2H1228.2" stroke="#0000ff" stroke-width="4.8" stroke-linecap="round" stroke-dasharray="17 24"/>
<text x="1234.4" y="69.7" font-size="24.1">SP+</text>
<text x="1234.4" y="98.8" font-size="24.1">ESC</text>
<path d="M1597.1 459.7V11M1708.2 459.7V11M1819.3 459.7V11M1930.4 459.7V11" stroke="#7d7d7d" stroke-width="2.3" stroke-dasharray="11 10.4" fill="none"/>
<path d="M1486 347.52H2041.5M1486 235.35H2041.5M1486 123.18H2041.5" stroke="#7d7d7d" stroke-width="2.3" stroke-dasharray="11 10.4" fill="none"/>
<path d="M1597.1 459.7V451.2M1708.2 459.7V451.2M1819.3 459.7V451.2M1930.4 459.7V451.2M1486 347.52H1494.5M1486 235.35H1494.5M1486 123.18H1494.5" stroke="#000" stroke-width="3.3" fill="none"/>
<rect x="1486" y="11" width="555.5" height="448.7" fill="none" stroke="#000" stroke-width="4.7"/>
<clipPath id="clipc"><rect x="1486" y="11" width="555.5" height="448.7"/></clipPath>
<g clip-path="url(#clipc)">
<path d="M1486.2 215 L1486.25 222.06 L1486.3 229.09 L1486.35 236.09 L1486.4 243.08 L1486.45 250.07 L1486.5 257.07 L1486.55 264.09 L1486.6 271.16 L1486.65 278.26 L1486.7 285.43 L1486.75 292.67 L1486.8 300 L1486.86 308.13 L1486.91 316.5 L1486.97 325.03 L1487.03 333.69 L1487.09 342.4 L1487.15 351.11 L1487.21 359.75 L1487.27 368.28 L1487.33 376.62 L1487.39 384.73 L1487.44 392.54 L1487.5 400 L1487.54 405.5 L1487.59 410.81 L1487.63 415.96 L1487.67 420.97 L1487.71 425.88 L1487.75 430.71 L1487.79 435.49 L1487.83 440.24 L1487.88 444.99 L1487.92 449.76 L1487.96 454.59 L1488 459.5 L1487.98 458.82 L1487.97 458.14 L1487.97 457.45 L1487.97 456.76 L1487.99 456.07 L1488 455.38 L1488.03 454.68 L1488.06 453.98 L1488.1 453.28 L1488.14 452.58 L1488.19 451.87 L1488.24 451.17 L1488.3 450.46 L1488.36 449.75 L1488.43 449.04 L1488.5 448.33 L1488.57 447.62 L1488.65 446.91 L1488.73 446.19 L1488.81 445.48 L1488.9 444.76 L1488.98 444.05 L1489.07 443.33 L1489.16 442.62 L1489.25 441.9 L1489.34 441.18 L1489.43 440.47 L1489.53 439.75 L1489.62 439.04 L1489.71 438.33 L1489.8 437.61 L1489.89 436.9 L1489.98 436.19 L1490.06 435.48 L1490.15 434.77 L1490.23 434.06 L1490.31 433.36 L1490.39 432.66 L1490.46 431.95 L1490.53 431.25 L1490.6 430.55 L1490.66 429.86 L1490.72 429.16 L1490.77 428.47 L1490.82 427.79 L1490.87 427.1 L1490.9 426.42 L1490.94 425.74 L1490.96 425.06 L1490.99 424.38 L1491 423.71 L1491.02 423.04 L1491.04 422.36 L1491.05 421.69 L1491.07 421.01 L1491.09 420.33 L1491.11 419.65 L1491.14 418.96 L1491.18 418.27 L1491.22 417.57 L1491.28 416.86 L1491.34 416.15 L1491.41 415.42 L1491.5 414.69 L1491.6 413.95 L1491.71 413.2 L1491.84 412.44 L1491.99 411.66 L1492.16 410.87 L1492.34 410.07 L1492.55 409.26 L1492.77 408.44 L1493.02 407.64 L1493.28 406.85 L1493.57 406.08 L1493.87 405.35 L1494.19 404.66 L1494.53 404.02 L1494.89 403.43 L1495.26 402.92 L1495.65 402.48 L1496.06 402.13 L1496.49 401.86 L1496.93 401.7 L1497.38 401.65 L1497.86 401.72 L1498.35 401.91 L1498.84 402.21 L1499.35 402.61 L1499.85 403.07 L1500.34 403.59 L1500.82 404.15 L1501.28 404.73 L1501.72 405.32 L1502.15 405.92 L1502.55 406.53 L1502.93 407.15 L1503.29 407.77 L1503.64 408.4 L1503.97 409.04 L1504.29 409.69 L1504.59 410.34 L1504.88 411 L1505.16 411.66 L1505.42 412.33 L1505.68 413 L1505.92 413.68 L1506.16 414.36 L1506.39 415.04 L1506.61 415.72 L1506.83 416.41 L1507.04 417.1 L1507.24 417.79 L1507.45 418.48 L1507.65 419.17 L1507.85 419.86 L1508.05 420.55 L1508.25 421.24 L1508.45 421.93 L1508.66 422.62 L1508.86 423.3 L1509.07 423.98 L1509.29 424.66 L1509.51 425.33 L1509.74 426 L1509.98 426.66 L1510.22 427.32 L1510.47 427.98 L1510.73 428.63 L1510.99 429.28 L1511.26 429.93 L1511.53 430.58 L1511.8 431.22 L1512.08 431.86 L1512.35 432.5 L1512.63 433.15 L1512.91 433.79 L1513.19 434.43 L1513.46 435.07 L1513.74 435.72 L1514.01 436.36 L1514.28 437.01 L1514.54 437.66 L1514.8 438.31 L1515.05 438.97 L1515.3 439.63 L1515.55 440.29 L1515.79 440.96 L1516.03 441.63 L1516.26 442.3 L1516.49 442.97 L1516.72 443.64 L1516.94 444.32 L1517.16 444.99 L1517.38 445.67 L1517.6 446.35 L1517.82 447.03 L1518.03 447.71 L1518.25 448.39 L1518.46 449.07 L1518.67 449.75 L1518.88 450.43 L1519.1 451.11 L1519.31 451.79 L1519.52 452.47 L1519.74 453.14 L1519.95 453.82 L1520.17 454.49 L1520.39 455.17 L1520.61 455.84 L1520.84 456.5 L1521.06 457.17 L1521.29 457.83 L1521.52 458.49 L1521.76 459.15 L1522 459.8 L1522.24 459.11 L1522.47 458.42 L1522.71 457.74 L1522.95 457.06 L1523.19 456.39 L1523.43 455.71 L1523.67 455.04 L1523.91 454.38 L1524.15 453.71 L1524.4 453.05 L1524.64 452.39 L1524.89 451.73 L1525.13 451.08 L1525.38 450.43 L1525.63 449.78 L1525.88 449.13 L1526.14 448.49 L1526.39 447.84 L1526.64 447.2 L1526.9 446.56 L1527.16 445.92 L1527.42 445.29 L1527.68 444.65 L1527.94 444.02 L1528.21 443.39 L1528.47 442.76 L1528.74 442.13 L1529.01 441.5 L1529.28 440.88 L1529.55 440.25 L1529.83 439.63 L1530.1 439 L1530.38 438.38 L1530.66 437.76 L1530.95 437.14 L1531.23 436.52 L1531.52 435.9 L1531.8 435.28 L1532.1 434.66 L1532.39 434.04 L1532.68 433.42 L1532.98 432.8 L1533.28 432.18 L1533.58 431.56 L1533.89 430.94 L1534.19 430.32 L1534.5 429.69 L1534.81 429.07 L1535.13 428.45 L1535.45 427.83 L1535.76 427.21 L1536.09 426.58 L1536.41 425.96 L1536.74 425.33 L1537.07 424.7 L1537.4 424.07 L1537.74 423.44 L1538.08 422.81 L1538.42 422.18 L1538.76 421.55 L1539.11 420.91 L1539.46 420.28 L1539.82 419.64 L1540.17 419.01 L1540.54 418.38 L1540.9 417.75 L1541.27 417.12 L1541.65 416.49 L1542.03 415.87 L1542.41 415.25 L1542.8 414.63 L1543.2 414.02 L1543.6 413.41 L1544 412.81 L1544.41 412.21 L1544.83 411.62 L1545.25 411.04 L1545.68 410.46 L1546.11 409.89 L1546.55 409.33 L1547 408.78 L1547.46 408.23 L1547.92 407.7 L1548.39 407.17 L1548.86 406.66 L1549.35 406.15 L1549.84 405.66 L1550.34 405.18 L1550.84 404.71 L1551.36 404.25 L1551.88 403.8 L1552.42 403.37 L1552.96 402.95 L1553.51 402.55 L1554.06 402.16 L1554.63 401.79 L1555.21 401.43 L1555.8 401.09 L1556.39 400.76 L1557 400.45 L1557.62 400.16 L1558.24 399.88 L1558.88 399.63 L1559.53 399.39 L1560.19 399.17 L1560.85 398.97 L1561.53 398.8 L1562.21 398.64 L1562.89 398.5 L1563.58 398.38 L1564.28 398.29 L1564.97 398.22 L1565.67 398.17 L1566.37 398.15 L1567.06 398.14 L1567.76 398.17 L1568.45 398.21 L1569.13 398.29 L1569.81 398.38 L1570.49 398.51 L1571.15 398.66 L1571.81 398.84 L1572.46 399.04 L1573.1 399.27 L1573.72 399.53 L1574.33 399.82 L1574.94 400.13 L1575.53 400.47 L1576.11 400.83 L1576.68 401.22 L1577.24 401.62 L1577.78 402.04 L1578.32 402.49 L1578.85 402.95 L1579.37 403.43 L1579.88 403.92 L1580.38 404.43 L1580.88 404.95 L1581.36 405.48 L1581.84 406.02 L1582.31 406.58 L1582.77 407.14 L1583.22 407.71 L1583.67 408.28 L1584.11 408.86 L1584.54 409.44 L1584.96 410.03 L1585.38 410.62 L1585.8 411.21 L1586.21 411.8 L1586.61 412.39 L1587.01 412.99 L1587.4 413.59 L1587.79 414.19 L1588.17 414.79 L1588.55 415.39 L1588.93 415.99 L1589.3 416.59 L1589.67 417.2 L1590.03 417.8 L1590.4 418.41 L1590.76 419.01 L1591.11 419.62 L1591.47 420.23 L1591.82 420.83 L1592.18 421.44 L1592.53 422.05 L1592.88 422.65 L1593.23 423.26 L1593.57 423.87 L1593.92 424.47 L1594.27 425.08 L1594.62 425.68 L1594.97 426.28 L1595.32 426.89 L1595.67 427.49 L1596.02 428.09 L1596.37 428.68 L1596.72 429.28 L1597.08 429.88 L1597.44 430.47 L1597.8 431.06 L1598.16 431.65 L1598.53 432.24 L1598.9 432.82 L1599.27 433.4 L1599.65 433.98 L1600.03 434.56 L1600.42 435.14 L1600.81 435.71 L1601.2 436.28 L1601.6 436.84 L1602.01 437.41 L1602.42 437.96 L1602.83 438.52 L1603.26 439.07 L1603.68 439.62 L1604.12 440.17 L1604.56 440.71 L1605.01 441.24 L1605.47 441.78 L1605.93 442.31 L1606.4 442.83 L1606.88 443.35 L1607.37 443.87 L1607.87 444.38 L1608.37 444.88 L1608.88 445.38 L1609.41 445.88 L1609.94 446.37 L1610.49 446.85 L1611.04 447.33 L1611.6 447.8 L1612.17 448.27 L1612.75 448.72 L1613.34 449.17 L1613.94 449.6 L1614.54 450.01 L1615.15 450.41 L1615.77 450.8 L1616.39 451.16 L1617.02 451.51 L1617.65 451.84 L1618.29 452.14 L1618.93 452.42 L1619.57 452.67 L1620.22 452.9 L1620.87 453.09 L1621.52 453.26 L1622.17 453.4 L1622.82 453.5 L1623.47 453.57 L1624.12 453.6 L1624.77 453.6 L1625.42 453.56 L1626.07 453.48 L1626.72 453.36 L1627.36 453.21 L1628 453.03 L1628.64 452.81 L1629.26 452.57 L1629.89 452.29 L1630.51 451.99 L1631.12 451.67 L1631.72 451.32 L1632.32 450.95 L1632.9 450.56 L1633.48 450.15 L1634.05 449.73 L1634.6 449.29 L1635.15 448.83 L1635.68 448.37 L1636.2 447.89 L1636.71 447.41 L1637.21 446.91 L1637.7 446.4 L1638.18 445.89 L1638.64 445.36 L1639.1 444.83 L1639.55 444.29 L1639.99 443.74 L1640.42 443.18 L1640.84 442.62 L1641.25 442.05 L1641.66 441.47 L1642.06 440.88 L1642.45 440.29 L1642.84 439.7 L1643.21 439.1 L1643.59 438.49 L1643.96 437.88 L1644.32 437.26 L1644.68 436.64 L1645.03 436.02 L1645.38 435.4 L1645.73 434.77 L1646.07 434.14 L1646.41 433.5 L1646.75 432.87 L1647.08 432.23 L1647.42 431.6 L1647.75 430.96 L1648.08 430.32 L1648.41 429.68 L1648.74 429.04 L1649.07 428.41 L1649.4 427.77 L1649.73 427.14 L1650.06 426.5 L1650.4 425.87 L1650.73 425.24 L1651.07 424.62 L1651.41 423.99 L1651.75 423.38 L1652.1 422.76 L1652.45 422.15 L1652.8 421.54 L1653.16 420.94 L1653.52 420.34 L1653.89 419.75 L1654.26 419.17 L1654.63 418.58 L1655.01 418 L1655.39 417.43 L1655.78 416.85 L1656.16 416.28 L1656.55 415.71 L1656.94 415.15 L1657.33 414.58 L1657.72 414.01 L1658.11 413.45 L1658.5 412.88 L1658.88 412.31 L1659.27 411.74 L1659.66 411.17 L1660.04 410.59 L1660.42 410.02 L1660.79 409.44 L1661.17 408.85 L1661.54 408.27 L1661.91 407.68 L1662.28 407.09 L1662.64 406.5 L1663.01 405.9 L1663.37 405.31 L1663.73 404.71 L1664.09 404.11 L1664.45 403.51 L1664.81 402.91 L1665.17 402.3 L1665.52 401.7 L1665.88 401.09 L1666.23 400.48 L1666.59 399.88 L1666.94 399.27 L1667.3 398.66 L1667.66 398.05 L1668.01 397.44 L1668.37 396.83 L1668.72 396.23 L1669.08 395.62 L1669.44 395.01 L1669.8 394.4 L1670.16 393.8 L1670.53 393.19 L1670.89 392.59 L1671.26 391.98 L1671.62 391.38 L1671.99 390.78 L1672.37 390.18 L1672.74 389.58 L1673.12 388.99 L1673.5 388.39 L1673.88 387.8 L1674.26 387.21 L1674.65 386.63 L1675.04 386.04 L1675.44 385.46 L1675.84 384.88 L1676.24 384.3 L1676.64 383.73 L1677.05 383.16 L1677.47 382.59 L1677.89 382.03 L1678.31 381.47 L1678.74 380.92 L1679.17 380.36 L1679.61 379.82 L1680.05 379.27 L1680.49 378.73 L1680.95 378.2 L1681.4 377.67 L1681.87 377.14 L1682.34 376.62 L1682.81 376.11 L1683.29 375.6 L1683.78 375.09 L1684.28 374.59 L1684.78 374.1 L1685.28 373.61 L1685.8 373.13 L1686.32 372.65 L1686.85 372.18 L1687.38 371.71 L1687.93 371.26 L1688.48 370.8 L1689.03 370.36 L1689.6 369.92 L1690.17 369.49 L1690.75 369.07 L1691.34 368.66 L1691.94 368.26 L1692.54 367.87 L1693.15 367.49 L1693.76 367.12 L1694.38 366.77 L1695.01 366.44 L1695.64 366.11 L1696.27 365.81 L1696.92 365.52 L1697.56 365.25 L1698.21 365 L1698.87 364.77 L1699.53 364.56 L1700.19 364.37 L1700.86 364.21 L1701.53 364.06 L1702.2 363.94 L1702.88 363.85 L1703.56 363.78 L1704.24 363.74 L1704.92 363.72 L1705.61 363.73 L1706.3 363.78 L1706.99 363.85 L1707.68 363.94 L1708.37 364.07 L1709.06 364.21 L1709.75 364.38 L1710.43 364.56 L1711.11 364.77 L1711.79 364.98 L1712.47 365.22 L1713.14 365.46 L1713.81 365.71 L1714.47 365.98 L1715.12 366.25 L1715.77 366.52 L1716.41 366.81 L1717.04 367.1 L1717.67 367.4 L1718.3 367.71 L1718.92 368.02 L1719.53 368.34 L1720.14 368.67 L1720.75 369 L1721.35 369.34 L1721.95 369.69 L1722.54 370.04 L1723.13 370.4 L1723.71 370.76 L1724.29 371.12 L1724.87 371.5 L1725.44 371.87 L1726.01 372.26 L1726.58 372.64 L1727.14 373.04 L1727.7 373.43 L1728.26 373.83 L1728.81 374.23 L1729.37 374.64 L1729.92 375.05 L1730.47 375.47 L1731.02 375.89 L1731.56 376.31 L1732.11 376.73 L1732.65 377.16 L1733.19 377.59 L1733.73 378.02 L1734.27 378.45 L1734.81 378.89 L1735.35 379.33 L1735.89 379.77 L1736.42 380.21 L1736.96 380.65 L1737.5 381.1 L1738.04 381.54 L1738.58 381.99 L1739.11 382.44 L1739.65 382.89 L1740.19 383.33 L1740.74 383.78 L1741.28 384.23 L1741.82 384.68 L1742.37 385.13 L1742.91 385.58 L1743.46 386.02 L1744.01 386.47 L1744.57 386.92 L1745.12 387.36 L1745.68 387.81 L1746.24 388.25 L1746.8 388.69 L1747.37 389.13 L1747.94 389.57 L1748.51 390 L1749.09 390.43 L1749.67 390.86 L1750.25 391.29 L1750.84 391.72 L1751.43 392.14 L1752.02 392.56 L1752.62 392.97 L1753.22 393.38 L1753.82 393.79 L1754.43 394.19 L1755.04 394.59 L1755.66 394.98 L1756.27 395.37 L1756.89 395.75 L1757.52 396.12 L1758.14 396.49 L1758.77 396.85 L1759.4 397.21 L1760.04 397.55 L1760.68 397.89 L1761.31 398.22 L1761.96 398.55 L1762.6 398.86 L1763.25 399.17 L1763.89 399.46 L1764.54 399.75 L1765.2 400.03 L1765.85 400.29 L1766.51 400.55 L1767.16 400.79 L1767.82 401.03 L1768.48 401.25 L1769.14 401.46 L1769.81 401.66 L1770.47 401.85 L1771.14 402.02 L1771.81 402.18 L1772.47 402.33 L1773.14 402.46 L1773.81 402.58 L1774.49 402.69 L1775.16 402.78 L1775.83 402.86 L1776.5 402.92 L1777.18 402.97 L1777.85 403.01 L1778.53 403.03 L1779.2 403.03 L1779.88 403.03 L1780.55 403.01 L1781.23 402.97 L1781.9 402.93 L1782.58 402.87 L1783.25 402.8 L1783.93 402.72 L1784.6 402.63 L1785.27 402.52 L1785.95 402.41 L1786.62 402.28 L1787.29 402.14 L1787.96 401.99 L1788.63 401.83 L1789.3 401.67 L1789.97 401.49 L1790.64 401.3 L1791.3 401.1 L1791.97 400.9 L1792.63 400.68 L1793.29 400.46 L1793.95 400.22 L1794.61 399.98 L1795.27 399.74 L1795.92 399.48 L1796.57 399.22 L1797.23 398.95 L1797.87 398.67 L1798.52 398.38 L1799.17 398.09 L1799.81 397.8 L1800.45 397.49 L1801.09 397.19 L1801.72 396.87 L1802.35 396.55 L1802.98 396.23 L1803.61 395.9 L1804.24 395.57 L1804.86 395.23 L1805.48 394.89 L1806.09 394.54 L1806.7 394.19 L1807.31 393.83 L1807.92 393.48 L1808.53 393.11 L1809.13 392.75 L1809.73 392.38 L1810.33 392.01 L1810.92 391.63 L1811.52 391.26 L1812.11 390.88 L1812.7 390.49 L1813.28 390.11 L1813.87 389.72 L1814.45 389.32 L1815.04 388.93 L1815.62 388.53 L1816.19 388.14 L1816.77 387.73 L1817.35 387.33 L1817.92 386.93 L1818.49 386.52 L1819.07 386.11 L1819.64 385.7 L1820.21 385.29 L1820.78 384.88 L1821.34 384.47 L1821.91 384.05 L1822.48 383.64 L1823.04 383.22 L1823.61 382.81 L1824.17 382.39 L1824.74 381.97 L1825.3 381.55 L1825.86 381.13 L1826.43 380.71 L1826.99 380.29 L1827.55 379.88 L1828.12 379.46 L1828.68 379.04 L1829.24 378.62 L1829.8 378.2 L1830.37 377.79 L1830.93 377.37 L1831.5 376.95 L1832.06 376.54 L1832.63 376.13 L1833.2 375.72 L1833.77 375.31 L1834.34 374.9 L1834.91 374.5 L1835.48 374.09 L1836.06 373.69 L1836.64 373.29 L1837.21 372.9 L1837.8 372.51 L1838.38 372.12 L1838.97 371.73 L1839.55 371.35 L1840.15 370.97 L1840.74 370.59 L1841.34 370.22 L1841.94 369.85 L1842.54 369.49 L1843.15 369.13 L1843.76 368.77 L1844.37 368.42 L1844.99 368.08 L1845.61 367.74 L1846.24 367.4 L1846.87 367.07 L1847.5 366.75 L1848.14 366.43 L1848.78 366.12 L1849.42 365.82 L1850.07 365.53 L1850.72 365.24 L1851.37 364.96 L1852.03 364.69 L1852.69 364.44 L1853.35 364.19 L1854.01 363.95 L1854.67 363.72 L1855.34 363.51 L1856 363.31 L1856.67 363.12 L1857.34 362.94 L1858.01 362.78 L1858.68 362.63 L1859.35 362.5 L1860.03 362.38 L1860.7 362.28 L1861.37 362.19 L1862.05 362.12 L1862.72 362.07 L1863.39 362.03 L1864.06 362.01 L1864.73 362.01 L1865.4 362.03 L1866.07 362.07 L1866.74 362.12 L1867.41 362.19 L1868.07 362.28 L1868.74 362.38 L1869.4 362.5 L1870.06 362.64 L1870.72 362.79 L1871.38 362.95 L1872.04 363.13 L1872.69 363.33 L1873.35 363.53 L1874 363.76 L1874.65 363.99 L1875.29 364.24 L1875.94 364.5 L1876.58 364.77 L1877.22 365.06 L1877.86 365.35 L1878.5 365.66 L1879.13 365.98 L1879.76 366.3 L1880.39 366.64 L1881.02 366.99 L1881.64 367.34 L1882.26 367.71 L1882.87 368.08 L1883.49 368.47 L1884.1 368.86 L1884.7 369.25 L1885.31 369.66 L1885.91 370.07 L1886.5 370.49 L1887.09 370.91 L1887.68 371.34 L1888.27 371.77 L1888.85 372.21 L1889.43 372.66 L1890 373.11 L1890.57 373.56 L1891.13 374.02 L1891.69 374.47 L1892.25 374.94 L1892.8 375.4 L1893.35 375.87 L1893.89 376.34 L1894.43 376.81 L1894.97 377.29 L1895.5 377.77 L1896.02 378.25 L1896.54 378.73 L1897.06 379.22 L1897.57 379.71 L1898.08 380.2 L1898.59 380.7 L1899.09 381.19 L1899.58 381.69 L1900.07 382.2 L1900.56 382.7 L1901.04 383.21 L1901.52 383.72 L1901.99 384.24 L1902.46 384.75 L1902.93 385.27 L1903.39 385.79 L1903.85 386.32 L1904.3 386.85 L1904.75 387.38 L1905.2 387.91 L1905.64 388.44 L1906.07 388.98 L1906.5 389.52 L1906.93 390.06 L1907.36 390.61 L1907.78 391.16 L1908.19 391.71 L1908.6 392.26 L1909.01 392.82 L1909.41 393.38 L1909.81 393.94 L1910.21 394.5 L1910.6 395.07 L1910.99 395.64 L1911.37 396.21 L1911.75 396.79 L1912.12 397.36 L1912.49 397.94 L1912.86 398.53 L1913.22 399.11 L1913.58 399.7 L1913.93 400.29 L1914.28 400.88 L1914.63 401.48 L1914.97 402.07 L1915.31 402.67 L1915.64 403.28 L1915.97 403.88 L1916.3 404.49 L1916.62 405.1 L1916.94 405.71 L1917.26 406.33 L1917.57 406.95 L1917.87 407.57 L1918.17 408.19 L1918.47 408.82 L1918.77 409.45 L1919.06 410.08 L1919.35 410.71 L1919.63 411.35 L1919.91 411.99 L1920.18 412.63 L1920.45 413.27 L1920.72 413.92 L1920.98 414.56 L1921.24 415.21 L1921.5 415.87 L1921.75 416.52 L1922 417.18 L1922.25 417.84 L1922.49 418.5 L1922.73 419.17 L1922.97 419.83 L1923.21 420.5 L1923.44 421.16 L1923.67 421.83 L1923.9 422.51 L1924.13 423.18 L1924.35 423.85 L1924.58 424.53 L1924.8 425.2 L1925.02 425.88 L1925.24 426.55 L1925.46 427.23 L1925.68 427.91 L1925.89 428.59 L1926.11 429.27 L1926.33 429.95 L1926.54 430.62 L1926.76 431.3 L1926.98 431.98 L1927.19 432.66 L1927.41 433.34 L1927.63 434.02 L1927.84 434.7 L1928.06 435.38 L1928.28 436.05 L1928.5 436.73 L1928.72 437.4 L1928.95 438.08 L1929.17 438.75 L1929.4 439.42 L1929.63 440.1 L1929.86 440.77 L1930.09 441.43 L1930.33 442.1 L1930.56 442.77 L1930.8 443.43 L1931.05 444.09 L1931.29 444.75 L1931.54 445.41 L1931.79 446.07 L1932.05 446.72 L1932.31 447.37 L1932.57 448.02 L1932.84 448.67 L1933.11 449.31 L1933.38 449.95 L1933.66 450.59 L1933.95 451.23 L1934.23 451.86 L1934.53 452.49 L1934.82 453.11 L1935.13 453.74 L1935.44 454.36 L1935.75 454.97 L1936.07 455.59 L1936.39 456.2 L1936.72 456.8 L1937.06 457.4 L1937.4 458 L1937.73 457.36 L1938.06 456.72 L1938.38 456.07 L1938.69 455.43 L1939 454.79 L1939.3 454.15 L1939.6 453.51 L1939.89 452.87 L1940.19 452.24 L1940.48 451.6 L1940.77 450.97 L1941.06 450.33 L1941.36 449.7 L1941.65 449.08 L1941.95 448.45 L1942.25 447.83 L1942.55 447.21 L1942.86 446.59 L1943.17 445.98 L1943.49 445.37 L1943.81 444.76 L1944.14 444.16 L1944.48 443.56 L1944.83 442.97 L1945.19 442.38 L1945.56 441.79 L1945.94 441.21 L1946.33 440.64 L1946.74 440.07 L1947.15 439.51 L1947.59 438.95 L1948.03 438.4 L1948.5 437.85 L1948.97 437.31 L1949.47 436.78 L1949.97 436.25 L1950.48 435.73 L1951.01 435.2 L1951.53 434.68 L1952.07 434.17 L1952.6 433.65 L1953.14 433.13 L1953.67 432.61 L1954.19 432.09 L1954.71 431.56 L1955.23 431.04 L1955.73 430.5 L1956.22 429.97 L1956.69 429.42 L1957.15 428.87 L1957.6 428.32 L1958.04 427.76 L1958.46 427.19 L1958.86 426.62 L1959.26 426.04 L1959.64 425.46 L1960.01 424.87 L1960.37 424.28 L1960.72 423.69 L1961.06 423.08 L1961.38 422.48 L1961.7 421.87 L1962 421.25 L1962.3 420.63 L1962.58 420.01 L1962.86 419.38 L1963.12 418.75 L1963.38 418.12 L1963.63 417.48 L1963.86 416.83 L1964.09 416.19 L1964.32 415.54 L1964.53 414.89 L1964.74 414.23 L1964.93 413.57 L1965.13 412.91 L1965.31 412.25 L1965.49 411.58 L1965.66 410.91 L1965.83 410.24 L1965.99 409.56 L1966.14 408.89 L1966.29 408.21 L1966.44 407.53 L1966.58 406.84 L1966.71 406.16 L1966.84 405.47 L1966.97 404.79 L1967.09 404.1 L1967.21 403.41 L1967.33 402.71 L1967.44 402.02 L1967.55 401.33 L1967.66 400.63 L1967.77 399.94 L1967.87 399.24 L1967.98 398.55 L1968.08 397.85 L1968.18 397.15 L1968.28 396.45 L1968.38 395.76 L1968.48 395.06 L1968.57 394.36 L1968.67 393.66 L1968.77 392.97 L1968.86 392.27 L1968.96 391.57 L1969.06 390.87 L1969.15 390.18 L1969.25 389.48 L1969.34 388.78 L1969.43 388.08 L1969.53 387.39 L1969.62 386.69 L1969.71 385.99 L1969.8 385.29 L1969.9 384.59 L1969.99 383.9 L1970.08 383.2 L1970.17 382.5 L1970.26 381.8 L1970.35 381.11 L1970.43 380.41 L1970.52 379.71 L1970.61 379.01 L1970.7 378.31 L1970.78 377.61 L1970.87 376.92 L1970.96 376.22 L1971.04 375.52 L1971.13 374.82 L1971.21 374.12 L1971.3 373.43 L1971.38 372.73 L1971.46 372.03 L1971.55 371.33 L1971.63 370.63 L1971.71 369.93 L1971.79 369.23 L1971.87 368.54 L1971.95 367.84 L1972.03 367.14 L1972.11 366.44 L1972.19 365.74 L1972.27 365.04 L1972.35 364.34 L1972.43 363.65 L1972.51 362.95 L1972.59 362.25 L1972.66 361.55 L1972.74 360.85 L1972.81 360.15 L1972.89 359.45 L1972.97 358.75 L1973.04 358.06 L1973.12 357.36 L1973.19 356.66 L1973.26 355.96 L1973.34 355.26 L1973.41 354.56 L1973.48 353.86 L1973.55 353.16 L1973.63 352.46 L1973.7 351.76 L1973.77 351.07 L1973.84 350.37 L1973.91 349.67 L1973.98 348.97 L1974.05 348.27 L1974.12 347.57 L1974.19 346.87 L1974.25 346.17 L1974.32 345.47 L1974.39 344.77 L1974.46 344.07 L1974.52 343.37 L1974.59 342.67 L1974.66 341.97 L1974.72 341.28 L1974.79 340.58 L1974.85 339.88 L1974.92 339.18 L1974.98 338.48 L1975.04 337.78 L1975.11 337.08 L1975.17 336.38 L1975.23 335.68 L1975.3 334.98 L1975.36 334.28 L1975.42 333.58 L1975.48 332.88 L1975.54 332.18 L1975.6 331.48 L1975.66 330.78 L1975.72 330.08 L1975.78 329.38 L1975.84 328.68 L1975.9 327.98 L1975.96 327.28 L1976.02 326.58 L1976.08 325.88 L1976.13 325.18 L1976.19 324.48 L1976.25 323.78 L1976.3 323.08 L1976.36 322.38 L1976.42 321.68 L1976.47 320.98 L1976.53 320.28 L1976.58 319.58 L1976.64 318.88 L1976.69 318.18 L1976.75 317.48 L1976.8 316.78 L1976.85 316.08 L1976.91 315.38 L1976.96 314.68 L1977.01 313.98 L1977.06 313.28 L1977.12 312.58 L1977.17 311.88 L1977.22 311.18 L1977.27 310.48 L1977.32 309.78 L1977.37 309.08 L1977.42 308.38 L1977.47 307.68 L1977.52 306.98 L1977.57 306.28 L1977.62 305.58 L1977.67 304.87 L1977.72 304.17 L1977.76 303.47 L1977.81 302.77 L1977.86 302.07 L1977.91 301.37 L1977.95 300.67 L1978 299.97 L1978.05 299.27 L1978.09 298.57 L1978.14 297.87 L1978.18 297.17 L1978.23 296.47 L1978.27 295.77 L1978.32 295.07 L1978.36 294.37 L1978.41 293.66 L1978.45 292.96 L1978.5 292.26 L1978.54 291.56 L1978.58 290.86 L1978.63 290.16 L1978.67 289.46 L1978.71 288.76 L1978.75 288.06 L1978.79 287.36 L1978.84 286.66 L1978.88 285.95 L1978.92 285.25 L1978.96 284.55 L1979 283.85 L1979.04 283.15 L1979.08 282.45 L1979.12 281.75 L1979.16 281.05 L1979.2 280.35 L1979.24 279.65 L1979.28 278.94 L1979.32 278.24 L1979.36 277.54 L1979.39 276.84 L1979.43 276.14 L1979.47 275.44 L1979.51 274.74 L1979.55 274.04 L1979.58 273.34 L1979.62 272.63 L1979.66 271.93 L1979.69 271.23 L1979.73 270.53 L1979.77 269.83 L1979.8 269.13 L1979.84 268.43 L1979.87 267.73 L1979.91 267.02 L1979.94 266.32 L1979.98 265.62 L1980.01 264.92 L1980.05 264.22 L1980.08 263.52 L1980.12 262.82 L1980.15 262.12 L1980.18 261.41 L1980.22 260.71 L1980.25 260.01 L1980.28 259.31 L1980.32 258.61 L1980.35 257.91 L1980.38 257.21 L1980.42 256.5 L1980.45 255.8 L1980.48 255.1 L1980.51 254.4 L1980.54 253.7 L1980.58 253 L1980.61 252.29 L1980.64 251.59 L1980.67 250.89 L1980.7 250.19 L1980.73 249.49 L1980.76 248.79 L1980.79 248.09 L1980.82 247.38 L1980.85 246.68 L1980.88 245.98 L1980.91 245.28 L1980.94 244.58 L1980.97 243.88 L1981 243.17 L1981.03 242.47 L1981.06 241.77 L1981.09 241.07 L1981.12 240.37 L1981.14 239.67 L1981.17 238.96 L1981.2 238.26 L1981.23 237.56 L1981.26 236.86 L1981.29 236.16 L1981.31 235.46 L1981.34 234.75 L1981.37 234.05 L1981.4 233.35 L1981.42 232.65 L1981.45 231.95 L1981.48 231.24 L1981.5 230.54 L1981.53 229.84 L1981.56 229.14 L1981.58 228.44 L1981.61 227.74 L1981.64 227.03 L1981.66 226.33 L1981.69 225.63 L1981.71 224.93 L1981.74 224.23 L1981.77 223.52 L1981.79 222.82 L1981.82 222.12 L1981.84 221.42 L1981.87 220.72 L1981.89 220.02 L1981.92 219.31 L1981.94 218.61 L1981.97 217.91 L1981.99 217.21 L1982.02 216.51 L1982.04 215.8 L1982.07 215.1 L1982.09 214.4 L1982.11 213.7 L1982.14 213 L1982.16 212.29 L1982.19 211.59 L1982.21 210.89 L1982.23 210.19 L1982.26 209.49 L1982.28 208.78 L1982.31 208.08 L1982.33 207.38 L1982.35 206.68 L1982.38 205.98 L1982.4 205.28 L1982.42 204.57 L1982.45 203.87 L1982.47 203.17 L1982.49 202.47 L1982.52 201.77 L1982.54 201.06 L1982.56 200.36 L1982.58 199.66 L1982.61 198.96 L1982.63 198.26 L1982.65 197.55 L1982.67 196.85 L1982.7 196.15 L1982.72 195.45 L1982.74 194.75 L1982.76 194.04 L1982.79 193.34 L1982.81 192.64 L1982.83 191.94 L1982.85 191.24 L1982.88 190.53 L1982.9 189.83 L1982.92 189.13 L1982.94 188.43 L1982.97 187.73 L1982.99 187.02 L1983.01 186.32 L1983.03 185.62 L1983.05 184.92 L1983.08 184.22 L1983.1 183.51 L1983.12 182.81 L1983.14 182.11 L1983.16 181.41 L1983.19 180.7 L1983.21 180 L1983.23 179.3 L1983.25 178.6 L1983.27 177.9 L1983.29 177.19 L1983.32 176.49 L1983.34 175.79 L1983.36 175.09 L1983.38 174.39 L1983.4 173.68 L1983.43 172.98 L1983.45 172.28 L1983.47 171.58 L1983.49 170.88 L1983.51 170.17 L1983.53 169.47 L1983.56 168.77 L1983.58 168.07 L1983.6 167.37 L1983.62 166.66 L1983.64 165.96 L1983.67 165.26 L1983.69 164.56 L1983.71 163.86 L1983.73 163.15 L1983.75 162.45 L1983.78 161.75 L1983.8 161.05 L1983.82 160.35 L1983.84 159.64 L1983.86 158.94 L1983.89 158.24 L1983.91 157.54 L1983.93 156.84 L1983.95 156.14 L1983.98 155.43 L1984 154.73 L1984.02 154.03 L1984.04 153.33 L1984.07 152.63 L1984.09 151.92 L1984.11 151.22 L1984.13 150.52 L1984.16 149.82 L1984.18 149.12 L1984.2 148.41 L1984.23 147.71 L1984.25 147.01 L1984.27 146.31 L1984.29 145.61 L1984.32 144.9 L1984.34 144.2 L1984.36 143.5 L1984.39 142.8 L1984.41 142.1 L1984.43 141.4 L1984.46 140.69 L1984.48 139.99 L1984.51 139.29 L1984.53 138.59 L1984.55 137.89 L1984.58 137.18 L1984.6 136.48 L1984.62 135.78 L1984.65 135.08 L1984.67 134.38 L1984.7 133.68 L1984.72 132.97 L1984.75 132.27 L1984.77 131.57 L1984.8 130.87 L1984.82 130.17 L1984.85 129.46 L1984.87 128.76 L1984.9 128.06 L1984.92 127.36 L1984.95 126.66 L1984.97 125.96 L1985 125.25 L1985.02 124.55 L1985.05 123.85 L1985.07 123.15 L1985.1 122.45 L1985.13 121.75 L1985.15 121.04 L1985.18 120.34 L1985.21 119.64 L1985.23 118.94 L1985.26 118.24 L1985.29 117.54 L1985.31 116.83 L1985.34 116.13 L1985.37 115.43 L1985.39 114.73 L1985.42 114.03 L1985.45 113.33 L1985.48 112.63 L1985.5 111.92 L1985.53 111.22 L1985.56 110.52 L1985.59 109.82 L1985.62 109.12 L1985.65 108.42 L1985.67 107.72 L1985.7 107.01 L1985.73 106.31 L1985.76 105.61 L1985.79 104.91 L1985.82 104.21 L1985.85 103.51 L1985.88 102.81 L1985.91 102.1 L1985.94 101.4 L1985.97 100.7 L1986 100" stroke="#ff0000" stroke-width="5.5" fill="none" stroke-linejoin="round" stroke-linecap="round"/>
<path d="M1487.2 201.6L1487.2 226.9M1487.41 250.1L1487.49 268.9M1487.61 291.3L1487.79 310.6M1488.02 332.9L1488.38 352.2M1489.07 374.5L1490.13 392.5M1491.03 416.99L1493.07 434.01M1494.22 457.72L1497.58 441.48M1502.6 424.87L1513.6 430.03M1522.08 446.73L1528.52 457.07M1538.91 446.56L1547.39 436.54M1560.9 427.88L1571.6 428.62M1585.68 441.26L1595.42 453.54M1605.85 449L1614.05 440.3M1628.74 435.28L1638.16 441.12M1649.12 456.67L1657.18 449.43M1666.6 431.88L1673.8 420.72M1680.6 410.54L1688.1 403.36M1702.29 396.65L1713.11 398.15M1729.6 406.64L1738.5 412.96M1753.45 424.15L1762.55 429.45M1778.2 435L1789.5 435M1806.77 427.53L1816.73 419.87M1832 408.67L1841.9 401.83M1856.1 395.23L1868.7 394.47M1873.29 396.57L1887.21 403.13M1899.87 415.07L1909.73 427.93M1918.76 444.4L1924.64 457M1931.11 440.08L1936.99 425.32M1946.93 403.03L1952.57 392.67M1961.85 373.76L1967.65 356.44M1971.06 333.41L1973.64 315.49M1976.47 291.4L1977.63 273.8M1979.14 250L1979.86 232.4M1980.94 208.5L1981.56 190.9M1982.64 168L1983.26 150M1984.03 125.5L1984.57 108M1985.43 84.8L1985.87 66" stroke="#0000ff" stroke-width="4.6" fill="none" stroke-linecap="round"/>
</g>
<text transform="translate(1486 493.1) scale(0.98 1.07)" font-size="30.4" text-anchor="middle">0</text>
<text transform="translate(1597.1 493.1) scale(0.98 1.07)" font-size="30.4" text-anchor="middle">400</text>
<text transform="translate(1708.2 493.1) scale(0.98 1.07)" font-size="30.4" text-anchor="middle">800</text>
<text transform="translate(1819.3 493.1) scale(0.98 1.07)" font-size="30.4" text-anchor="middle">1200</text>
<text transform="translate(1930.4 493.1) scale(0.98 1.07)" font-size="30.4" text-anchor="middle">1600</text>
<text transform="translate(2041.5 493.1) scale(0.98 1.07)" font-size="30.4" text-anchor="middle">2000</text>
<text transform="translate(1477.4 468.9) scale(0.985 1.05)" font-size="28.8" text-anchor="end">0</text>
<text transform="translate(1477.4 356.72) scale(0.985 1.05)" font-size="28.8" text-anchor="end">50</text>
<text transform="translate(1477.4 244.55) scale(0.985 1.05)" font-size="28.8" text-anchor="end">100</text>
<text transform="translate(1477.4 132.38) scale(0.985 1.05)" font-size="28.8" text-anchor="end">150</text>
<text transform="translate(1477.4 20.2) scale(0.985 1.05)" font-size="28.8" text-anchor="end">200</text>
<text x="1763.75" y="548" font-size="38.3" text-anchor="middle">Time (s)</text>
<text transform="translate(1423.1 236.5) rotate(-90)" font-size="39.0" text-anchor="middle">Voltage Error (mV)</text>
<text x="1387.1" y="37" font-size="38.2">(c)</text>
<rect x="1854.9" y="51.5" width="108.5" height="61.5" fill="#fff" stroke="#000" stroke-width="2.5"/>
<path d="M1857.7 67.8H1909.4" stroke="#ff0000" stroke-width="4.8" stroke-linecap="round"/>
<path d="M1857.7 97.3H1909.4" stroke="#0000ff" stroke-width="4.8" stroke-linecap="round" stroke-dasharray="17 24"/>
<text x="1915.5" y="76.5" font-size="23.9">SP+</text>
<text x="1915.5" y="105.5" font-size="23.9">ESC</text>
</svg></body></html>
